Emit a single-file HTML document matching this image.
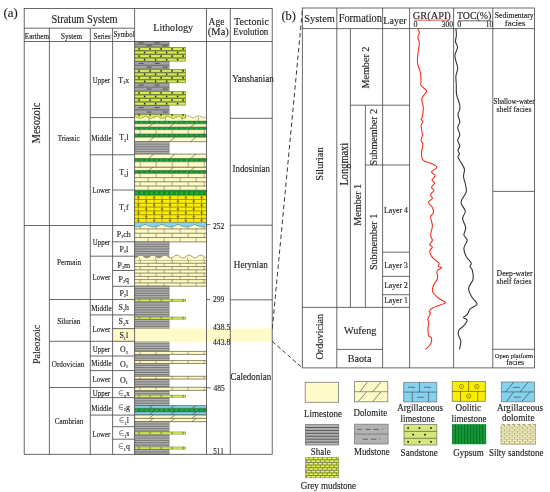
<!DOCTYPE html>
<html><head><meta charset="utf-8"><title>Stratigraphic column</title>
<style>
html,body{margin:0;padding:0;background:#ffffff;}
svg{display:block;font-family:"Liberation Serif","DejaVu Serif",serif;}
text{stroke:#1e1e1e;stroke-width:0.14px;}
</style></head>
<body>
<svg width="550" height="492" viewBox="0 0 550 492">
<rect width="550" height="492" fill="#ffffff"/>
<rect x="112.6" y="328.7" width="159.6" height="12.9" fill="#fffac8"/>
<rect x="134.6" y="41.5" width="34.6" height="5.6" fill="#a3a3a3"/>
<line x1="134.6" y1="41.5" x2="169.2" y2="41.5" stroke="#5c5c5c" stroke-width="0.8"/>
<line x1="134.6" y1="44.3" x2="169.2" y2="44.3" stroke="#5c5c5c" stroke-width="0.8"/>
<line x1="134.6" y1="47.1" x2="169.2" y2="47.1" stroke="#5c5c5c" stroke-width="0.8"/>
<line x1="138.6" y1="42.9" x2="143.6" y2="42.9" stroke="#2e2e2e" stroke-width="0.7"/>
<line x1="154.6" y1="42.9" x2="159.6" y2="42.9" stroke="#2e2e2e" stroke-width="0.7"/>
<line x1="146.6" y1="45.7" x2="151.6" y2="45.7" stroke="#2e2e2e" stroke-width="0.7"/>
<line x1="162.6" y1="45.7" x2="167.6" y2="45.7" stroke="#2e2e2e" stroke-width="0.7"/>
<line x1="169.2" y1="41.5" x2="169.2" y2="47.1" stroke="#666666" stroke-width="0.4"/>
<rect x="134.6" y="47.1" width="51.2" height="14.4" fill="#76823e"/>
<rect x="135.1" y="47.85" width="50.2" height="2.15" fill="#d6ea58"/>
<rect x="138.4" y="48.12" width="1.4" height="1.6" fill="#1a1a1a"/>
<rect x="149.4" y="48.12" width="1.4" height="1.6" fill="#1a1a1a"/>
<rect x="160.4" y="48.12" width="1.4" height="1.6" fill="#1a1a1a"/>
<rect x="171.4" y="48.12" width="1.4" height="1.6" fill="#1a1a1a"/>
<rect x="182.4" y="48.12" width="1.4" height="1.6" fill="#1a1a1a"/>
<rect x="135.1" y="51.45" width="50.2" height="2.15" fill="#d6ea58"/>
<rect x="143.9" y="51.73" width="1.4" height="1.6" fill="#1a1a1a"/>
<rect x="154.9" y="51.73" width="1.4" height="1.6" fill="#1a1a1a"/>
<rect x="165.9" y="51.73" width="1.4" height="1.6" fill="#1a1a1a"/>
<rect x="176.9" y="51.73" width="1.4" height="1.6" fill="#1a1a1a"/>
<rect x="135.1" y="55.05" width="50.2" height="2.15" fill="#d6ea58"/>
<rect x="138.4" y="55.33" width="1.4" height="1.6" fill="#1a1a1a"/>
<rect x="149.4" y="55.33" width="1.4" height="1.6" fill="#1a1a1a"/>
<rect x="160.4" y="55.33" width="1.4" height="1.6" fill="#1a1a1a"/>
<rect x="171.4" y="55.33" width="1.4" height="1.6" fill="#1a1a1a"/>
<rect x="182.4" y="55.33" width="1.4" height="1.6" fill="#1a1a1a"/>
<rect x="135.1" y="58.65" width="50.2" height="2.15" fill="#d6ea58"/>
<rect x="143.9" y="58.92" width="1.4" height="1.6" fill="#1a1a1a"/>
<rect x="154.9" y="58.92" width="1.4" height="1.6" fill="#1a1a1a"/>
<rect x="165.9" y="58.92" width="1.4" height="1.6" fill="#1a1a1a"/>
<rect x="176.9" y="58.92" width="1.4" height="1.6" fill="#1a1a1a"/>
<rect x="134.6" y="61.5" width="34.6" height="7.6" fill="#a3a3a3"/>
<line x1="134.6" y1="61.5" x2="169.2" y2="61.5" stroke="#5c5c5c" stroke-width="0.8"/>
<line x1="134.6" y1="65.3" x2="169.2" y2="65.3" stroke="#5c5c5c" stroke-width="0.8"/>
<line x1="134.6" y1="69.1" x2="169.2" y2="69.1" stroke="#5c5c5c" stroke-width="0.8"/>
<line x1="138.6" y1="63.4" x2="143.6" y2="63.4" stroke="#2e2e2e" stroke-width="0.7"/>
<line x1="154.6" y1="63.4" x2="159.6" y2="63.4" stroke="#2e2e2e" stroke-width="0.7"/>
<line x1="146.6" y1="67.2" x2="151.6" y2="67.2" stroke="#2e2e2e" stroke-width="0.7"/>
<line x1="162.6" y1="67.2" x2="167.6" y2="67.2" stroke="#2e2e2e" stroke-width="0.7"/>
<line x1="169.2" y1="61.5" x2="169.2" y2="69.1" stroke="#666666" stroke-width="0.4"/>
<rect x="134.6" y="69.1" width="51.2" height="14" fill="#76823e"/>
<rect x="135.1" y="69.85" width="50.2" height="2.05" fill="#d6ea58"/>
<rect x="138.4" y="70.08" width="1.4" height="1.6" fill="#1a1a1a"/>
<rect x="149.4" y="70.08" width="1.4" height="1.6" fill="#1a1a1a"/>
<rect x="160.4" y="70.08" width="1.4" height="1.6" fill="#1a1a1a"/>
<rect x="171.4" y="70.08" width="1.4" height="1.6" fill="#1a1a1a"/>
<rect x="182.4" y="70.08" width="1.4" height="1.6" fill="#1a1a1a"/>
<rect x="135.1" y="73.35" width="50.2" height="2.05" fill="#d6ea58"/>
<rect x="143.9" y="73.58" width="1.4" height="1.6" fill="#1a1a1a"/>
<rect x="154.9" y="73.58" width="1.4" height="1.6" fill="#1a1a1a"/>
<rect x="165.9" y="73.58" width="1.4" height="1.6" fill="#1a1a1a"/>
<rect x="176.9" y="73.58" width="1.4" height="1.6" fill="#1a1a1a"/>
<rect x="135.1" y="76.85" width="50.2" height="2.05" fill="#d6ea58"/>
<rect x="138.4" y="77.08" width="1.4" height="1.6" fill="#1a1a1a"/>
<rect x="149.4" y="77.08" width="1.4" height="1.6" fill="#1a1a1a"/>
<rect x="160.4" y="77.08" width="1.4" height="1.6" fill="#1a1a1a"/>
<rect x="171.4" y="77.08" width="1.4" height="1.6" fill="#1a1a1a"/>
<rect x="182.4" y="77.08" width="1.4" height="1.6" fill="#1a1a1a"/>
<rect x="135.1" y="80.35" width="50.2" height="2.05" fill="#d6ea58"/>
<rect x="143.9" y="80.58" width="1.4" height="1.6" fill="#1a1a1a"/>
<rect x="154.9" y="80.58" width="1.4" height="1.6" fill="#1a1a1a"/>
<rect x="165.9" y="80.58" width="1.4" height="1.6" fill="#1a1a1a"/>
<rect x="176.9" y="80.58" width="1.4" height="1.6" fill="#1a1a1a"/>
<rect x="134.6" y="83.1" width="34.6" height="8" fill="#a3a3a3"/>
<line x1="134.6" y1="83.1" x2="169.2" y2="83.1" stroke="#5c5c5c" stroke-width="0.8"/>
<line x1="134.6" y1="87.1" x2="169.2" y2="87.1" stroke="#5c5c5c" stroke-width="0.8"/>
<line x1="134.6" y1="91.1" x2="169.2" y2="91.1" stroke="#5c5c5c" stroke-width="0.8"/>
<line x1="138.6" y1="85.1" x2="143.6" y2="85.1" stroke="#2e2e2e" stroke-width="0.7"/>
<line x1="154.6" y1="85.1" x2="159.6" y2="85.1" stroke="#2e2e2e" stroke-width="0.7"/>
<line x1="146.6" y1="89.1" x2="151.6" y2="89.1" stroke="#2e2e2e" stroke-width="0.7"/>
<line x1="162.6" y1="89.1" x2="167.6" y2="89.1" stroke="#2e2e2e" stroke-width="0.7"/>
<line x1="169.2" y1="83.1" x2="169.2" y2="91.1" stroke="#666666" stroke-width="0.4"/>
<rect x="134.6" y="91.1" width="51.2" height="14.4" fill="#76823e"/>
<rect x="135.1" y="91.85" width="50.2" height="2.15" fill="#d6ea58"/>
<rect x="138.4" y="92.12" width="1.4" height="1.6" fill="#1a1a1a"/>
<rect x="149.4" y="92.12" width="1.4" height="1.6" fill="#1a1a1a"/>
<rect x="160.4" y="92.12" width="1.4" height="1.6" fill="#1a1a1a"/>
<rect x="171.4" y="92.12" width="1.4" height="1.6" fill="#1a1a1a"/>
<rect x="182.4" y="92.12" width="1.4" height="1.6" fill="#1a1a1a"/>
<rect x="135.1" y="95.45" width="50.2" height="2.15" fill="#d6ea58"/>
<rect x="143.9" y="95.72" width="1.4" height="1.6" fill="#1a1a1a"/>
<rect x="154.9" y="95.72" width="1.4" height="1.6" fill="#1a1a1a"/>
<rect x="165.9" y="95.72" width="1.4" height="1.6" fill="#1a1a1a"/>
<rect x="176.9" y="95.72" width="1.4" height="1.6" fill="#1a1a1a"/>
<rect x="135.1" y="99.05" width="50.2" height="2.15" fill="#d6ea58"/>
<rect x="138.4" y="99.33" width="1.4" height="1.6" fill="#1a1a1a"/>
<rect x="149.4" y="99.33" width="1.4" height="1.6" fill="#1a1a1a"/>
<rect x="160.4" y="99.33" width="1.4" height="1.6" fill="#1a1a1a"/>
<rect x="171.4" y="99.33" width="1.4" height="1.6" fill="#1a1a1a"/>
<rect x="182.4" y="99.33" width="1.4" height="1.6" fill="#1a1a1a"/>
<rect x="135.1" y="102.65" width="50.2" height="2.15" fill="#d6ea58"/>
<rect x="143.9" y="102.92" width="1.4" height="1.6" fill="#1a1a1a"/>
<rect x="154.9" y="102.92" width="1.4" height="1.6" fill="#1a1a1a"/>
<rect x="165.9" y="102.92" width="1.4" height="1.6" fill="#1a1a1a"/>
<rect x="176.9" y="102.92" width="1.4" height="1.6" fill="#1a1a1a"/>
<rect x="134.6" y="105.5" width="34.6" height="8.7" fill="#a3a3a3"/>
<line x1="134.6" y1="105.5" x2="169.2" y2="105.5" stroke="#5c5c5c" stroke-width="0.8"/>
<line x1="134.6" y1="109.85" x2="169.2" y2="109.85" stroke="#5c5c5c" stroke-width="0.8"/>
<line x1="134.6" y1="114.2" x2="169.2" y2="114.2" stroke="#5c5c5c" stroke-width="0.8"/>
<line x1="138.6" y1="107.67" x2="143.6" y2="107.67" stroke="#2e2e2e" stroke-width="0.7"/>
<line x1="154.6" y1="107.67" x2="159.6" y2="107.67" stroke="#2e2e2e" stroke-width="0.7"/>
<line x1="146.6" y1="112.03" x2="151.6" y2="112.03" stroke="#2e2e2e" stroke-width="0.7"/>
<line x1="162.6" y1="112.03" x2="167.6" y2="112.03" stroke="#2e2e2e" stroke-width="0.7"/>
<line x1="169.2" y1="105.5" x2="169.2" y2="114.2" stroke="#666666" stroke-width="0.4"/>
<path d="M134.6 116 L181.8 116 L181.8 118.1 L182.6 117.6 L183.39 117.13 L184.19 116.71 L184.99 116.36 L185.78 116.1 L186.58 115.95 L187.38 115.9 L188.17 115.97 L188.97 116.15 L189.77 116.42 L190.56 116.79 L191.36 117.22 L192.16 117.7 L192.95 118 L193.75 117.51 L194.55 117.05 L195.35 116.64 L196.14 116.3 L196.94 116.06 L197.74 115.93 L198.53 115.9 L199.33 115.99 L200.13 116.19 L200.92 116.49 L201.72 116.87 L202.52 117.31 L203.31 117.79 L204.11 117.91 L204.91 117.42 L205.7 116.96 L206.5 116.57 L206.5 121 L134.6 121 Z" fill="#fffbc9"/>
<path d="M181.8 118.1 L182.6 117.6 L183.39 117.13 L184.19 116.71 L184.99 116.36 L185.78 116.1 L186.58 115.95 L187.38 115.9 L188.17 115.97 L188.97 116.15 L189.77 116.42 L190.56 116.79 L191.36 117.22 L192.16 117.7 L192.95 118 L193.75 117.51 L194.55 117.05 L195.35 116.64 L196.14 116.3 L196.94 116.06 L197.74 115.93 L198.53 115.9 L199.33 115.99 L200.13 116.19 L200.92 116.49 L201.72 116.87 L202.52 117.31 L203.31 117.79 L204.11 117.91 L204.91 117.42 L205.7 116.96 L206.5 116.57" fill="none" stroke="#615b3a" stroke-width="0.5"/>
<path d="M134.6 114.2 L185.8 114.2 L185.8 118.32 L185.01 118.52 L184.22 118.6 L183.44 118.56 L182.65 118.4 L181.86 118.13 L181.07 117.76 L180.29 117.31 L179.5 116.81 L178.71 116.28 L177.92 116.66 L177.14 117.17 L176.35 117.64 L175.56 118.03 L174.77 118.33 L173.98 118.52 L173.2 118.6 L172.41 118.55 L171.62 118.39 L170.83 118.11 L170.05 117.74 L169.26 117.29 L168.47 116.79 L167.68 116.26 L166.9 116.68 L166.11 117.19 L165.32 117.65 L164.53 118.04 L163.74 118.34 L162.96 118.53 L162.17 118.6 L161.38 118.55 L160.59 118.38 L159.81 118.1 L159.02 117.73 L158.23 117.28 L157.44 116.77 L156.66 116.24 L155.87 116.7 L155.08 117.21 L154.29 117.67 L153.5 118.06 L152.72 118.35 L151.93 118.53 L151.14 118.6 L150.35 118.55 L149.57 118.37 L148.78 118.09 L147.99 117.71 L147.2 117.26 L146.42 116.75 L145.63 116.22 L144.84 116.72 L144.05 117.23 L143.26 117.68 L142.48 118.07 L141.69 118.36 L140.9 118.54 L140.11 118.6 L139.33 118.54 L138.54 118.37 L137.75 118.08 L136.96 117.7 L136.18 117.24 L135.39 116.74 L134.6 116.2 Z" fill="#76823e"/>
<path d="M135.1 114.8 L185.3 114.8 L185.01 117.92 L184.22 118 L183.44 117.96 L182.65 117.8 L181.86 117.53 L181.07 117.16 L180.29 116.71 L179.5 116.21 L178.71 115.68 L177.92 116.06 L177.14 116.57 L176.35 117.04 L175.56 117.43 L174.77 117.73 L173.98 117.92 L173.2 118 L172.41 117.95 L171.62 117.79 L170.83 117.51 L170.05 117.14 L169.26 116.69 L168.47 116.19 L167.68 115.66 L166.9 116.08 L166.11 116.59 L165.32 117.05 L164.53 117.44 L163.74 117.74 L162.96 117.93 L162.17 118 L161.38 117.95 L160.59 117.78 L159.81 117.5 L159.02 117.13 L158.23 116.68 L157.44 116.17 L156.66 115.64 L155.87 116.1 L155.08 116.61 L154.29 117.07 L153.5 117.46 L152.72 117.75 L151.93 117.93 L151.14 118 L150.35 117.95 L149.57 117.77 L148.78 117.49 L147.99 117.11 L147.2 116.66 L146.42 116.15 L145.63 115.62 L144.84 116.12 L144.05 116.63 L143.26 117.08 L142.48 117.47 L141.69 117.76 L140.9 117.94 L140.11 118 L139.33 117.94 L138.54 117.77 L137.75 117.48 L136.96 117.1 L136.18 116.64 L135.39 116.14 Z" fill="#d6ea58"/>
<rect x="138.4" y="114.3" width="1.4" height="1.4" fill="#1a1a1a"/>
<rect x="149.4" y="114.3" width="1.4" height="1.4" fill="#1a1a1a"/>
<rect x="160.4" y="114.3" width="1.4" height="1.4" fill="#1a1a1a"/>
<rect x="171.4" y="114.3" width="1.4" height="1.4" fill="#1a1a1a"/>
<rect x="182.4" y="114.3" width="1.4" height="1.4" fill="#1a1a1a"/>
<line x1="149.2" y1="117.5" x2="149.2" y2="121" stroke="#615b3a" stroke-width="0.5"/>
<line x1="165.6" y1="117.5" x2="165.6" y2="121" stroke="#615b3a" stroke-width="0.5"/>
<line x1="182" y1="117.5" x2="182" y2="121" stroke="#615b3a" stroke-width="0.5"/>
<line x1="198.4" y1="117.5" x2="198.4" y2="121" stroke="#615b3a" stroke-width="0.5"/>
<rect x="134.6" y="120.8" width="71.9" height="3" fill="#0f8e2d"/>
<line x1="135.4" y1="122.3" x2="206.5" y2="122.3" stroke="#2ba648" stroke-width="1.6500000000000001" stroke-dasharray="2.6 2.4"/>
<rect x="134.6" y="123.8" width="71.9" height="3.3" fill="#fffbc9"/>
<line x1="134.6" y1="123.8" x2="206.5" y2="123.8" stroke="#615b3a" stroke-width="0.7"/>
<line x1="134.6" y1="127.1" x2="206.5" y2="127.1" stroke="#615b3a" stroke-width="0.7"/>
<line x1="148.6" y1="127.1" x2="152.77" y2="123.8" stroke="#333" stroke-width="0.55"/>
<line x1="169.6" y1="127.1" x2="173.77" y2="123.8" stroke="#333" stroke-width="0.55"/>
<line x1="190.6" y1="127.1" x2="194.77" y2="123.8" stroke="#333" stroke-width="0.55"/>
<rect x="134.6" y="127.1" width="71.9" height="2.5" fill="#0f8e2d"/>
<line x1="135.4" y1="128.35" x2="206.5" y2="128.35" stroke="#2ba648" stroke-width="1.375" stroke-dasharray="2.6 2.4"/>
<rect x="134.6" y="129.6" width="71.9" height="4.4" fill="#fffbc9"/>
<line x1="134.6" y1="129.6" x2="206.5" y2="129.6" stroke="#615b3a" stroke-width="0.7"/>
<line x1="134.6" y1="134" x2="206.5" y2="134" stroke="#615b3a" stroke-width="0.7"/>
<line x1="140.2" y1="129.6" x2="140.2" y2="134" stroke="#615b3a" stroke-width="0.5"/>
<line x1="156.2" y1="129.6" x2="156.2" y2="134" stroke="#615b3a" stroke-width="0.5"/>
<line x1="172.2" y1="129.6" x2="172.2" y2="134" stroke="#615b3a" stroke-width="0.5"/>
<line x1="188.2" y1="129.6" x2="188.2" y2="134" stroke="#615b3a" stroke-width="0.5"/>
<line x1="204.2" y1="129.6" x2="204.2" y2="134" stroke="#615b3a" stroke-width="0.5"/>
<rect x="134.6" y="134" width="71.9" height="3.2" fill="#0f8e2d"/>
<line x1="135.4" y1="135.6" x2="206.5" y2="135.6" stroke="#2ba648" stroke-width="1.7599999999999938" stroke-dasharray="2.6 2.4"/>
<rect x="134.6" y="137.2" width="71.9" height="4.5" fill="#fffbc9"/>
<line x1="134.6" y1="137.2" x2="206.5" y2="137.2" stroke="#615b3a" stroke-width="0.7"/>
<line x1="134.6" y1="141.7" x2="206.5" y2="141.7" stroke="#615b3a" stroke-width="0.7"/>
<line x1="148.6" y1="141.7" x2="153.85" y2="137.2" stroke="#333" stroke-width="0.55"/>
<line x1="169.6" y1="141.7" x2="174.85" y2="137.2" stroke="#333" stroke-width="0.55"/>
<line x1="190.6" y1="141.7" x2="195.85" y2="137.2" stroke="#333" stroke-width="0.55"/>
<rect x="134.6" y="141.7" width="34.6" height="12.4" fill="#b2b2b2"/>
<line x1="134.6" y1="141.7" x2="169.2" y2="141.7" stroke="#666666" stroke-width="0.8"/>
<line x1="134.6" y1="144.18" x2="169.2" y2="144.18" stroke="#666666" stroke-width="0.8"/>
<line x1="134.6" y1="146.66" x2="169.2" y2="146.66" stroke="#666666" stroke-width="0.8"/>
<line x1="134.6" y1="149.14" x2="169.2" y2="149.14" stroke="#666666" stroke-width="0.8"/>
<line x1="134.6" y1="151.62" x2="169.2" y2="151.62" stroke="#666666" stroke-width="0.8"/>
<line x1="134.6" y1="154.1" x2="169.2" y2="154.1" stroke="#666666" stroke-width="0.8"/>
<line x1="169.2" y1="141.7" x2="169.2" y2="154.1" stroke="#666666" stroke-width="0.4"/>
<rect x="134.6" y="154.1" width="71.9" height="4.4" fill="#fffbc9"/>
<line x1="134.6" y1="154.1" x2="206.5" y2="154.1" stroke="#615b3a" stroke-width="0.7"/>
<line x1="134.6" y1="158.5" x2="206.5" y2="158.5" stroke="#615b3a" stroke-width="0.7"/>
<line x1="148.6" y1="158.5" x2="153.76" y2="154.1" stroke="#333" stroke-width="0.55"/>
<line x1="169.6" y1="158.5" x2="174.76" y2="154.1" stroke="#333" stroke-width="0.55"/>
<line x1="190.6" y1="158.5" x2="195.76" y2="154.1" stroke="#333" stroke-width="0.55"/>
<rect x="134.6" y="158.5" width="71.9" height="3.2" fill="#0f8e2d"/>
<line x1="135.4" y1="160.1" x2="206.5" y2="160.1" stroke="#2ba648" stroke-width="1.7599999999999938" stroke-dasharray="2.6 2.4"/>
<rect x="134.6" y="161.7" width="71.9" height="5.6" fill="#fffbc9"/>
<line x1="134.6" y1="161.7" x2="206.5" y2="161.7" stroke="#615b3a" stroke-width="0.7"/>
<line x1="134.6" y1="167.3" x2="206.5" y2="167.3" stroke="#615b3a" stroke-width="0.7"/>
<line x1="140.2" y1="161.7" x2="140.2" y2="167.3" stroke="#615b3a" stroke-width="0.5"/>
<line x1="156.2" y1="161.7" x2="156.2" y2="167.3" stroke="#615b3a" stroke-width="0.5"/>
<line x1="172.2" y1="161.7" x2="172.2" y2="167.3" stroke="#615b3a" stroke-width="0.5"/>
<line x1="188.2" y1="161.7" x2="188.2" y2="167.3" stroke="#615b3a" stroke-width="0.5"/>
<line x1="204.2" y1="161.7" x2="204.2" y2="167.3" stroke="#615b3a" stroke-width="0.5"/>
<rect x="134.6" y="167.3" width="71.9" height="3.2" fill="#fffbc9"/>
<line x1="134.6" y1="167.3" x2="206.5" y2="167.3" stroke="#615b3a" stroke-width="0.7"/>
<line x1="134.6" y1="170.5" x2="206.5" y2="170.5" stroke="#615b3a" stroke-width="0.7"/>
<line x1="148.6" y1="170.5" x2="152.68" y2="167.3" stroke="#333" stroke-width="0.55"/>
<line x1="169.6" y1="170.5" x2="173.68" y2="167.3" stroke="#333" stroke-width="0.55"/>
<line x1="190.6" y1="170.5" x2="194.68" y2="167.3" stroke="#333" stroke-width="0.55"/>
<rect x="134.6" y="170.5" width="71.9" height="2.9" fill="#0f8e2d"/>
<line x1="135.4" y1="171.95" x2="206.5" y2="171.95" stroke="#2ba648" stroke-width="1.5950000000000033" stroke-dasharray="2.6 2.4"/>
<rect x="134.6" y="173.4" width="71.9" height="16.8" fill="#fffbc9"/>
<line x1="134.6" y1="173.4" x2="206.5" y2="173.4" stroke="#615b3a" stroke-width="0.7"/>
<line x1="134.6" y1="177.6" x2="206.5" y2="177.6" stroke="#615b3a" stroke-width="0.7"/>
<line x1="134.6" y1="181.8" x2="206.5" y2="181.8" stroke="#615b3a" stroke-width="0.7"/>
<line x1="134.6" y1="186" x2="206.5" y2="186" stroke="#615b3a" stroke-width="0.7"/>
<line x1="134.6" y1="190.2" x2="206.5" y2="190.2" stroke="#615b3a" stroke-width="0.7"/>
<line x1="140.2" y1="173.4" x2="140.2" y2="177.6" stroke="#615b3a" stroke-width="0.5"/>
<line x1="156.2" y1="173.4" x2="156.2" y2="177.6" stroke="#615b3a" stroke-width="0.5"/>
<line x1="172.2" y1="173.4" x2="172.2" y2="177.6" stroke="#615b3a" stroke-width="0.5"/>
<line x1="188.2" y1="173.4" x2="188.2" y2="177.6" stroke="#615b3a" stroke-width="0.5"/>
<line x1="204.2" y1="173.4" x2="204.2" y2="177.6" stroke="#615b3a" stroke-width="0.5"/>
<line x1="148.2" y1="177.6" x2="148.2" y2="181.8" stroke="#615b3a" stroke-width="0.5"/>
<line x1="164.2" y1="177.6" x2="164.2" y2="181.8" stroke="#615b3a" stroke-width="0.5"/>
<line x1="180.2" y1="177.6" x2="180.2" y2="181.8" stroke="#615b3a" stroke-width="0.5"/>
<line x1="196.2" y1="177.6" x2="196.2" y2="181.8" stroke="#615b3a" stroke-width="0.5"/>
<line x1="140.2" y1="181.8" x2="140.2" y2="186" stroke="#615b3a" stroke-width="0.5"/>
<line x1="156.2" y1="181.8" x2="156.2" y2="186" stroke="#615b3a" stroke-width="0.5"/>
<line x1="172.2" y1="181.8" x2="172.2" y2="186" stroke="#615b3a" stroke-width="0.5"/>
<line x1="188.2" y1="181.8" x2="188.2" y2="186" stroke="#615b3a" stroke-width="0.5"/>
<line x1="204.2" y1="181.8" x2="204.2" y2="186" stroke="#615b3a" stroke-width="0.5"/>
<line x1="148.2" y1="186" x2="148.2" y2="190.2" stroke="#615b3a" stroke-width="0.5"/>
<line x1="164.2" y1="186" x2="164.2" y2="190.2" stroke="#615b3a" stroke-width="0.5"/>
<line x1="180.2" y1="186" x2="180.2" y2="190.2" stroke="#615b3a" stroke-width="0.5"/>
<line x1="196.2" y1="186" x2="196.2" y2="190.2" stroke="#615b3a" stroke-width="0.5"/>
<rect x="134.6" y="190.2" width="71.9" height="5.4" fill="#0f8e2d"/>
<line x1="135.4" y1="192.9" x2="206.5" y2="192.9" stroke="#2ba648" stroke-width="2.9700000000000033" stroke-dasharray="2.6 2.4"/>
<rect x="134.6" y="195.6" width="71.9" height="26.8" fill="#988c1a"/>
<rect x="134.6" y="196.05" width="71.9" height="2.93" fill="#fbee00"/>
<rect x="134.6" y="199.88" width="71.9" height="2.93" fill="#fbee00"/>
<rect x="134.6" y="203.71" width="71.9" height="2.93" fill="#fbee00"/>
<rect x="134.6" y="207.54" width="71.9" height="2.93" fill="#fbee00"/>
<rect x="134.6" y="211.36" width="71.9" height="2.93" fill="#fbee00"/>
<rect x="134.6" y="215.19" width="71.9" height="2.93" fill="#fbee00"/>
<rect x="134.6" y="219.02" width="71.9" height="2.93" fill="#fbee00"/>
<line x1="138.4" y1="195.6" x2="138.4" y2="222.4" stroke="#7a6e14" stroke-width="0.55"/>
<circle cx="138.4" cy="197.51" r="0.85" fill="#b8a800" stroke="#3e3606" stroke-width="0.45"/>
<circle cx="138.4" cy="205.17" r="0.85" fill="#b8a800" stroke="#3e3606" stroke-width="0.45"/>
<circle cx="138.4" cy="212.83" r="0.85" fill="#b8a800" stroke="#3e3606" stroke-width="0.45"/>
<circle cx="138.4" cy="220.49" r="0.85" fill="#b8a800" stroke="#3e3606" stroke-width="0.45"/>
<line x1="146.3" y1="195.6" x2="146.3" y2="222.4" stroke="#7a6e14" stroke-width="0.55"/>
<circle cx="146.3" cy="201.34" r="0.85" fill="#b8a800" stroke="#3e3606" stroke-width="0.45"/>
<circle cx="146.3" cy="209" r="0.85" fill="#b8a800" stroke="#3e3606" stroke-width="0.45"/>
<circle cx="146.3" cy="216.66" r="0.85" fill="#b8a800" stroke="#3e3606" stroke-width="0.45"/>
<line x1="154.2" y1="195.6" x2="154.2" y2="222.4" stroke="#7a6e14" stroke-width="0.55"/>
<circle cx="154.2" cy="197.51" r="0.85" fill="#b8a800" stroke="#3e3606" stroke-width="0.45"/>
<circle cx="154.2" cy="205.17" r="0.85" fill="#b8a800" stroke="#3e3606" stroke-width="0.45"/>
<circle cx="154.2" cy="212.83" r="0.85" fill="#b8a800" stroke="#3e3606" stroke-width="0.45"/>
<circle cx="154.2" cy="220.49" r="0.85" fill="#b8a800" stroke="#3e3606" stroke-width="0.45"/>
<line x1="162.1" y1="195.6" x2="162.1" y2="222.4" stroke="#7a6e14" stroke-width="0.55"/>
<circle cx="162.1" cy="201.34" r="0.85" fill="#b8a800" stroke="#3e3606" stroke-width="0.45"/>
<circle cx="162.1" cy="209" r="0.85" fill="#b8a800" stroke="#3e3606" stroke-width="0.45"/>
<circle cx="162.1" cy="216.66" r="0.85" fill="#b8a800" stroke="#3e3606" stroke-width="0.45"/>
<line x1="170" y1="195.6" x2="170" y2="222.4" stroke="#7a6e14" stroke-width="0.55"/>
<circle cx="170" cy="197.51" r="0.85" fill="#b8a800" stroke="#3e3606" stroke-width="0.45"/>
<circle cx="170" cy="205.17" r="0.85" fill="#b8a800" stroke="#3e3606" stroke-width="0.45"/>
<circle cx="170" cy="212.83" r="0.85" fill="#b8a800" stroke="#3e3606" stroke-width="0.45"/>
<circle cx="170" cy="220.49" r="0.85" fill="#b8a800" stroke="#3e3606" stroke-width="0.45"/>
<line x1="177.9" y1="195.6" x2="177.9" y2="222.4" stroke="#7a6e14" stroke-width="0.55"/>
<circle cx="177.9" cy="201.34" r="0.85" fill="#b8a800" stroke="#3e3606" stroke-width="0.45"/>
<circle cx="177.9" cy="209" r="0.85" fill="#b8a800" stroke="#3e3606" stroke-width="0.45"/>
<circle cx="177.9" cy="216.66" r="0.85" fill="#b8a800" stroke="#3e3606" stroke-width="0.45"/>
<line x1="185.8" y1="195.6" x2="185.8" y2="222.4" stroke="#7a6e14" stroke-width="0.55"/>
<circle cx="185.8" cy="197.51" r="0.85" fill="#b8a800" stroke="#3e3606" stroke-width="0.45"/>
<circle cx="185.8" cy="205.17" r="0.85" fill="#b8a800" stroke="#3e3606" stroke-width="0.45"/>
<circle cx="185.8" cy="212.83" r="0.85" fill="#b8a800" stroke="#3e3606" stroke-width="0.45"/>
<circle cx="185.8" cy="220.49" r="0.85" fill="#b8a800" stroke="#3e3606" stroke-width="0.45"/>
<line x1="193.7" y1="195.6" x2="193.7" y2="222.4" stroke="#7a6e14" stroke-width="0.55"/>
<circle cx="193.7" cy="201.34" r="0.85" fill="#b8a800" stroke="#3e3606" stroke-width="0.45"/>
<circle cx="193.7" cy="209" r="0.85" fill="#b8a800" stroke="#3e3606" stroke-width="0.45"/>
<circle cx="193.7" cy="216.66" r="0.85" fill="#b8a800" stroke="#3e3606" stroke-width="0.45"/>
<line x1="201.6" y1="195.6" x2="201.6" y2="222.4" stroke="#7a6e14" stroke-width="0.55"/>
<circle cx="201.6" cy="197.51" r="0.85" fill="#b8a800" stroke="#3e3606" stroke-width="0.45"/>
<circle cx="201.6" cy="205.17" r="0.85" fill="#b8a800" stroke="#3e3606" stroke-width="0.45"/>
<circle cx="201.6" cy="212.83" r="0.85" fill="#b8a800" stroke="#3e3606" stroke-width="0.45"/>
<circle cx="201.6" cy="220.49" r="0.85" fill="#b8a800" stroke="#3e3606" stroke-width="0.45"/>
<rect x="134.6" y="224.6" width="71.9" height="17.3" fill="#fffbc9"/>
<line x1="134.6" y1="228.93" x2="206.5" y2="228.93" stroke="#615b3a" stroke-width="0.7"/>
<line x1="134.6" y1="233.25" x2="206.5" y2="233.25" stroke="#615b3a" stroke-width="0.7"/>
<line x1="134.6" y1="237.57" x2="206.5" y2="237.57" stroke="#615b3a" stroke-width="0.7"/>
<line x1="134.6" y1="241.9" x2="206.5" y2="241.9" stroke="#615b3a" stroke-width="0.7"/>
<line x1="140.2" y1="224.6" x2="140.2" y2="228.93" stroke="#615b3a" stroke-width="0.5"/>
<line x1="156.2" y1="224.6" x2="156.2" y2="228.93" stroke="#615b3a" stroke-width="0.5"/>
<line x1="172.2" y1="224.6" x2="172.2" y2="228.93" stroke="#615b3a" stroke-width="0.5"/>
<line x1="188.2" y1="224.6" x2="188.2" y2="228.93" stroke="#615b3a" stroke-width="0.5"/>
<line x1="204.2" y1="224.6" x2="204.2" y2="228.93" stroke="#615b3a" stroke-width="0.5"/>
<line x1="148.2" y1="228.93" x2="148.2" y2="233.25" stroke="#615b3a" stroke-width="0.5"/>
<line x1="164.2" y1="228.93" x2="164.2" y2="233.25" stroke="#615b3a" stroke-width="0.5"/>
<line x1="180.2" y1="228.93" x2="180.2" y2="233.25" stroke="#615b3a" stroke-width="0.5"/>
<line x1="196.2" y1="228.93" x2="196.2" y2="233.25" stroke="#615b3a" stroke-width="0.5"/>
<line x1="140.2" y1="233.25" x2="140.2" y2="237.57" stroke="#615b3a" stroke-width="0.5"/>
<line x1="156.2" y1="233.25" x2="156.2" y2="237.57" stroke="#615b3a" stroke-width="0.5"/>
<line x1="172.2" y1="233.25" x2="172.2" y2="237.57" stroke="#615b3a" stroke-width="0.5"/>
<line x1="188.2" y1="233.25" x2="188.2" y2="237.57" stroke="#615b3a" stroke-width="0.5"/>
<line x1="204.2" y1="233.25" x2="204.2" y2="237.57" stroke="#615b3a" stroke-width="0.5"/>
<line x1="148.2" y1="237.57" x2="148.2" y2="241.9" stroke="#615b3a" stroke-width="0.5"/>
<line x1="164.2" y1="237.57" x2="164.2" y2="241.9" stroke="#615b3a" stroke-width="0.5"/>
<line x1="180.2" y1="237.57" x2="180.2" y2="241.9" stroke="#615b3a" stroke-width="0.5"/>
<line x1="196.2" y1="237.57" x2="196.2" y2="241.9" stroke="#615b3a" stroke-width="0.5"/>
<rect x="134.6" y="222.4" width="71.9" height="2.2" fill="#84d2ee"/>
<path d="M134.6 222.4 L206.5 222.4 L206.5 226.29 L205.7 226.51 L204.9 226.69 L204.1 226.81 L203.3 226.88 L202.51 226.9 L201.71 226.86 L200.91 226.76 L200.11 226.61 L199.31 226.41 L198.51 226.17 L197.71 225.89 L196.91 225.57 L196.11 225.23 L195.32 224.87 L194.52 224.51 L193.72 224.86 L192.92 225.22 L192.12 225.56 L191.32 225.87 L190.52 226.16 L189.72 226.4 L188.92 226.6 L188.13 226.75 L187.33 226.85 L186.53 226.9 L185.73 226.89 L184.93 226.82 L184.13 226.7 L183.33 226.52 L182.53 226.3 L181.73 226.04 L180.94 225.74 L180.14 225.41 L179.34 225.06 L178.54 224.7 L177.74 224.67 L176.94 225.03 L176.14 225.38 L175.34 225.71 L174.54 226.01 L173.75 226.28 L172.95 226.5 L172.15 226.68 L171.35 226.81 L170.55 226.88 L169.75 226.9 L168.95 226.86 L168.15 226.77 L167.35 226.62 L166.56 226.42 L165.76 226.18 L164.96 225.9 L164.16 225.59 L163.36 225.25 L162.56 224.89 L161.76 224.53 L160.96 224.84 L160.16 225.2 L159.37 225.54 L158.57 225.86 L157.77 226.14 L156.97 226.39 L156.17 226.59 L155.37 226.75 L154.57 226.85 L153.77 226.9 L152.97 226.89 L152.18 226.82 L151.38 226.7 L150.58 226.53 L149.78 226.32 L148.98 226.06 L148.18 225.76 L147.38 225.43 L146.58 225.08 L145.78 224.72 L144.99 224.64 L144.19 225.01 L143.39 225.36 L142.59 225.69 L141.79 225.99 L140.99 226.26 L140.19 226.49 L139.39 226.67 L138.59 226.8 L137.8 226.88 L137 226.9 L136.2 226.86 L135.4 226.77 L134.6 226.63 Z" fill="#84d2ee"/>
<path d="M134.6 226.63 L135.4 226.77 L136.2 226.86 L137 226.9 L137.8 226.88 L138.59 226.8 L139.39 226.67 L140.19 226.49 L140.99 226.26 L141.79 225.99 L142.59 225.69 L143.39 225.36 L144.19 225.01 L144.99 224.64 L145.78 224.72 L146.58 225.08 L147.38 225.43 L148.18 225.76 L148.98 226.06 L149.78 226.32 L150.58 226.53 L151.38 226.7 L152.18 226.82 L152.97 226.89 L153.77 226.9 L154.57 226.85 L155.37 226.75 L156.17 226.59 L156.97 226.39 L157.77 226.14 L158.57 225.86 L159.37 225.54 L160.16 225.2 L160.96 224.84 L161.76 224.53 L162.56 224.89 L163.36 225.25 L164.16 225.59 L164.96 225.9 L165.76 226.18 L166.56 226.42 L167.35 226.62 L168.15 226.77 L168.95 226.86 L169.75 226.9 L170.55 226.88 L171.35 226.81 L172.15 226.68 L172.95 226.5 L173.75 226.28 L174.54 226.01 L175.34 225.71 L176.14 225.38 L176.94 225.03 L177.74 224.67 L178.54 224.7 L179.34 225.06 L180.14 225.41 L180.94 225.74 L181.73 226.04 L182.53 226.3 L183.33 226.52 L184.13 226.7 L184.93 226.82 L185.73 226.89 L186.53 226.9 L187.33 226.85 L188.13 226.75 L188.92 226.6 L189.72 226.4 L190.52 226.16 L191.32 225.87 L192.12 225.56 L192.92 225.22 L193.72 224.86 L194.52 224.51 L195.32 224.87 L196.11 225.23 L196.91 225.57 L197.71 225.89 L198.51 226.17 L199.31 226.41 L200.11 226.61 L200.91 226.76 L201.71 226.86 L202.51 226.9 L203.3 226.88 L204.1 226.81 L204.9 226.69 L205.7 226.51 L206.5 226.29" fill="none" stroke="#3c6070" stroke-width="0.5"/>
<line x1="134.6" y1="222.4" x2="206.5" y2="222.4" stroke="#7a6a08" stroke-width="0.5"/>
<rect x="134.6" y="241.9" width="34.6" height="16.6" fill="#b2b2b2"/>
<line x1="134.6" y1="241.9" x2="169.2" y2="241.9" stroke="#666666" stroke-width="0.8"/>
<line x1="134.6" y1="244.27" x2="169.2" y2="244.27" stroke="#666666" stroke-width="0.8"/>
<line x1="134.6" y1="246.64" x2="169.2" y2="246.64" stroke="#666666" stroke-width="0.8"/>
<line x1="134.6" y1="249.01" x2="169.2" y2="249.01" stroke="#666666" stroke-width="0.8"/>
<line x1="134.6" y1="251.39" x2="169.2" y2="251.39" stroke="#666666" stroke-width="0.8"/>
<line x1="134.6" y1="253.76" x2="169.2" y2="253.76" stroke="#666666" stroke-width="0.8"/>
<line x1="134.6" y1="256.13" x2="169.2" y2="256.13" stroke="#666666" stroke-width="0.8"/>
<line x1="134.6" y1="258.5" x2="169.2" y2="258.5" stroke="#666666" stroke-width="0.8"/>
<line x1="169.2" y1="241.9" x2="169.2" y2="258.5" stroke="#666666" stroke-width="0.4"/>
<rect x="169.5" y="250" width="37" height="9" fill="#ffffff"/>
<rect x="134.6" y="260" width="71.9" height="26.2" fill="#fffbc9"/>
<line x1="134.6" y1="260" x2="206.5" y2="260" stroke="#615b3a" stroke-width="0.7"/>
<line x1="134.6" y1="263.27" x2="206.5" y2="263.27" stroke="#615b3a" stroke-width="0.7"/>
<line x1="134.6" y1="266.55" x2="206.5" y2="266.55" stroke="#615b3a" stroke-width="0.7"/>
<line x1="134.6" y1="269.82" x2="206.5" y2="269.82" stroke="#615b3a" stroke-width="0.7"/>
<line x1="134.6" y1="273.1" x2="206.5" y2="273.1" stroke="#615b3a" stroke-width="0.7"/>
<line x1="134.6" y1="276.38" x2="206.5" y2="276.38" stroke="#615b3a" stroke-width="0.7"/>
<line x1="134.6" y1="279.65" x2="206.5" y2="279.65" stroke="#615b3a" stroke-width="0.7"/>
<line x1="134.6" y1="282.93" x2="206.5" y2="282.93" stroke="#615b3a" stroke-width="0.7"/>
<line x1="134.6" y1="286.2" x2="206.5" y2="286.2" stroke="#615b3a" stroke-width="0.7"/>
<line x1="140.2" y1="260" x2="140.2" y2="263.27" stroke="#615b3a" stroke-width="0.5"/>
<line x1="156.2" y1="260" x2="156.2" y2="263.27" stroke="#615b3a" stroke-width="0.5"/>
<line x1="172.2" y1="260" x2="172.2" y2="263.27" stroke="#615b3a" stroke-width="0.5"/>
<line x1="188.2" y1="260" x2="188.2" y2="263.27" stroke="#615b3a" stroke-width="0.5"/>
<line x1="204.2" y1="260" x2="204.2" y2="263.27" stroke="#615b3a" stroke-width="0.5"/>
<line x1="148.2" y1="263.27" x2="148.2" y2="266.55" stroke="#615b3a" stroke-width="0.5"/>
<line x1="164.2" y1="263.27" x2="164.2" y2="266.55" stroke="#615b3a" stroke-width="0.5"/>
<line x1="180.2" y1="263.27" x2="180.2" y2="266.55" stroke="#615b3a" stroke-width="0.5"/>
<line x1="196.2" y1="263.27" x2="196.2" y2="266.55" stroke="#615b3a" stroke-width="0.5"/>
<line x1="140.2" y1="266.55" x2="140.2" y2="269.82" stroke="#615b3a" stroke-width="0.5"/>
<line x1="156.2" y1="266.55" x2="156.2" y2="269.82" stroke="#615b3a" stroke-width="0.5"/>
<line x1="172.2" y1="266.55" x2="172.2" y2="269.82" stroke="#615b3a" stroke-width="0.5"/>
<line x1="188.2" y1="266.55" x2="188.2" y2="269.82" stroke="#615b3a" stroke-width="0.5"/>
<line x1="204.2" y1="266.55" x2="204.2" y2="269.82" stroke="#615b3a" stroke-width="0.5"/>
<line x1="148.2" y1="269.82" x2="148.2" y2="273.1" stroke="#615b3a" stroke-width="0.5"/>
<line x1="164.2" y1="269.82" x2="164.2" y2="273.1" stroke="#615b3a" stroke-width="0.5"/>
<line x1="180.2" y1="269.82" x2="180.2" y2="273.1" stroke="#615b3a" stroke-width="0.5"/>
<line x1="196.2" y1="269.82" x2="196.2" y2="273.1" stroke="#615b3a" stroke-width="0.5"/>
<line x1="140.2" y1="273.1" x2="140.2" y2="276.38" stroke="#615b3a" stroke-width="0.5"/>
<line x1="156.2" y1="273.1" x2="156.2" y2="276.38" stroke="#615b3a" stroke-width="0.5"/>
<line x1="172.2" y1="273.1" x2="172.2" y2="276.38" stroke="#615b3a" stroke-width="0.5"/>
<line x1="188.2" y1="273.1" x2="188.2" y2="276.38" stroke="#615b3a" stroke-width="0.5"/>
<line x1="204.2" y1="273.1" x2="204.2" y2="276.38" stroke="#615b3a" stroke-width="0.5"/>
<line x1="148.2" y1="276.38" x2="148.2" y2="279.65" stroke="#615b3a" stroke-width="0.5"/>
<line x1="164.2" y1="276.38" x2="164.2" y2="279.65" stroke="#615b3a" stroke-width="0.5"/>
<line x1="180.2" y1="276.38" x2="180.2" y2="279.65" stroke="#615b3a" stroke-width="0.5"/>
<line x1="196.2" y1="276.38" x2="196.2" y2="279.65" stroke="#615b3a" stroke-width="0.5"/>
<line x1="140.2" y1="279.65" x2="140.2" y2="282.93" stroke="#615b3a" stroke-width="0.5"/>
<line x1="156.2" y1="279.65" x2="156.2" y2="282.93" stroke="#615b3a" stroke-width="0.5"/>
<line x1="172.2" y1="279.65" x2="172.2" y2="282.93" stroke="#615b3a" stroke-width="0.5"/>
<line x1="188.2" y1="279.65" x2="188.2" y2="282.93" stroke="#615b3a" stroke-width="0.5"/>
<line x1="204.2" y1="279.65" x2="204.2" y2="282.93" stroke="#615b3a" stroke-width="0.5"/>
<line x1="148.2" y1="282.93" x2="148.2" y2="286.2" stroke="#615b3a" stroke-width="0.5"/>
<line x1="164.2" y1="282.93" x2="164.2" y2="286.2" stroke="#615b3a" stroke-width="0.5"/>
<line x1="180.2" y1="282.93" x2="180.2" y2="286.2" stroke="#615b3a" stroke-width="0.5"/>
<line x1="196.2" y1="282.93" x2="196.2" y2="286.2" stroke="#615b3a" stroke-width="0.5"/>
<path d="M134.6 257.83 L135.4 257.8 L136.2 257.55 L137 257.11 L137.8 256.57 L138.6 256.02 L139.4 255.55 L140.2 255.24 L141 255.15 L141.8 255.3 L142.6 255.65 L143.4 256.15 L144.2 256.71 L145 257.24 L145.8 257.63 L146.6 257.83 L147.4 257.8 L148.2 257.55 L149 257.11 L149.8 256.57 L150.6 256.02 L151.4 255.55 L152.2 255.24 L153 255.15 L153.8 255.3 L154.6 255.65 L155.4 256.15 L156.2 256.71 L157 257.24 L157.8 257.63 L158.6 257.83 L159.4 257.8 L160.2 257.55 L161 257.11 L161.8 256.57 L162.6 256.02 L163.4 255.55 L164.2 255.24 L165 255.15 L165.8 255.3 L166.6 255.65 L167.4 256.15 L168.2 256.71 L169 257.24 L169.8 257.63 L170.6 257.83 L171.4 257.8 L172.2 257.55 L173 257.11 L173.8 256.57 L174.6 256.02 L175.4 255.55 L176.2 255.24 L177 255.15 L177.8 255.3 L178.6 255.65 L179.4 256.15 L180.2 256.71 L181 257.24 L181.8 257.63 L182.6 257.83 L183.4 257.8 L184.2 257.55 L185 257.11 L185.8 256.57 L186.6 256.02 L187.4 255.55 L188.2 255.24 L189 255.15 L189.8 255.3 L190.6 255.65 L191.4 256.15 L192.2 256.71 L193 257.24 L193.8 257.63 L194.6 257.83 L195.4 257.8 L196.2 257.55 L197 257.11 L197.8 256.57 L198.6 256.02 L199.4 255.55 L200.2 255.24 L201 255.15 L201.8 255.3 L202.6 255.65 L203.4 256.15 L204.2 256.71 L205 257.24 L205.8 257.63 L206.5 257.82 L206.5 260 L134.6 260 Z" fill="#fffbc9"/>
<path d="M134.6 257.83 L135.4 257.8 L136.2 257.55 L137 257.11 L137.8 256.57 L138.6 256.02 L139.4 255.55 L140.2 255.24 L141 255.15 L141.8 255.3 L142.6 255.65 L143.4 256.15 L144.2 256.71 L145 257.24 L145.8 257.63 L146.6 257.83 L147.4 257.8 L148.2 257.55 L149 257.11 L149.8 256.57 L150.6 256.02 L151.4 255.55 L152.2 255.24 L153 255.15 L153.8 255.3 L154.6 255.65 L155.4 256.15 L156.2 256.71 L157 257.24 L157.8 257.63 L158.6 257.83 L159.4 257.8 L160.2 257.55 L161 257.11 L161.8 256.57 L162.6 256.02 L163.4 255.55 L164.2 255.24 L165 255.15 L165.8 255.3 L166.6 255.65 L167.4 256.15 L168.2 256.71 L169 257.24 L169.8 257.63 L170.6 257.83 L171.4 257.8 L172.2 257.55 L173 257.11 L173.8 256.57 L174.6 256.02 L175.4 255.55 L176.2 255.24 L177 255.15 L177.8 255.3 L178.6 255.65 L179.4 256.15 L180.2 256.71 L181 257.24 L181.8 257.63 L182.6 257.83 L183.4 257.8 L184.2 257.55 L185 257.11 L185.8 256.57 L186.6 256.02 L187.4 255.55 L188.2 255.24 L189 255.15 L189.8 255.3 L190.6 255.65 L191.4 256.15 L192.2 256.71 L193 257.24 L193.8 257.63 L194.6 257.83 L195.4 257.8 L196.2 257.55 L197 257.11 L197.8 256.57 L198.6 256.02 L199.4 255.55 L200.2 255.24 L201 255.15 L201.8 255.3 L202.6 255.65 L203.4 256.15 L204.2 256.71 L205 257.24 L205.8 257.63 L206.5 257.82" fill="none" stroke="#615b3a" stroke-width="0.6"/>
<line x1="139.6" y1="257.6" x2="139.6" y2="260" stroke="#615b3a" stroke-width="0.5"/>
<line x1="155.6" y1="257.6" x2="155.6" y2="260" stroke="#615b3a" stroke-width="0.5"/>
<line x1="171.6" y1="257.6" x2="171.6" y2="260" stroke="#615b3a" stroke-width="0.5"/>
<line x1="187.6" y1="257.6" x2="187.6" y2="260" stroke="#615b3a" stroke-width="0.5"/>
<line x1="203.6" y1="257.6" x2="203.6" y2="260" stroke="#615b3a" stroke-width="0.5"/>
<rect x="134.6" y="286.2" width="34.6" height="42.6" fill="#b2b2b2"/>
<line x1="134.6" y1="286.2" x2="169.2" y2="286.2" stroke="#666666" stroke-width="0.8"/>
<line x1="134.6" y1="288.57" x2="169.2" y2="288.57" stroke="#666666" stroke-width="0.8"/>
<line x1="134.6" y1="290.93" x2="169.2" y2="290.93" stroke="#666666" stroke-width="0.8"/>
<line x1="134.6" y1="293.3" x2="169.2" y2="293.3" stroke="#666666" stroke-width="0.8"/>
<line x1="134.6" y1="295.67" x2="169.2" y2="295.67" stroke="#666666" stroke-width="0.8"/>
<line x1="134.6" y1="298.03" x2="169.2" y2="298.03" stroke="#666666" stroke-width="0.8"/>
<line x1="134.6" y1="300.4" x2="169.2" y2="300.4" stroke="#666666" stroke-width="0.8"/>
<line x1="134.6" y1="302.77" x2="169.2" y2="302.77" stroke="#666666" stroke-width="0.8"/>
<line x1="134.6" y1="305.13" x2="169.2" y2="305.13" stroke="#666666" stroke-width="0.8"/>
<line x1="134.6" y1="307.5" x2="169.2" y2="307.5" stroke="#666666" stroke-width="0.8"/>
<line x1="134.6" y1="309.87" x2="169.2" y2="309.87" stroke="#666666" stroke-width="0.8"/>
<line x1="134.6" y1="312.23" x2="169.2" y2="312.23" stroke="#666666" stroke-width="0.8"/>
<line x1="134.6" y1="314.6" x2="169.2" y2="314.6" stroke="#666666" stroke-width="0.8"/>
<line x1="134.6" y1="316.97" x2="169.2" y2="316.97" stroke="#666666" stroke-width="0.8"/>
<line x1="134.6" y1="319.33" x2="169.2" y2="319.33" stroke="#666666" stroke-width="0.8"/>
<line x1="134.6" y1="321.7" x2="169.2" y2="321.7" stroke="#666666" stroke-width="0.8"/>
<line x1="134.6" y1="324.07" x2="169.2" y2="324.07" stroke="#666666" stroke-width="0.8"/>
<line x1="134.6" y1="326.43" x2="169.2" y2="326.43" stroke="#666666" stroke-width="0.8"/>
<line x1="134.6" y1="328.8" x2="169.2" y2="328.8" stroke="#666666" stroke-width="0.8"/>
<line x1="169.2" y1="286.2" x2="169.2" y2="328.8" stroke="#666666" stroke-width="0.4"/>
<rect x="134.6" y="299" width="51.2" height="2.6" fill="#76823e"/>
<rect x="135.1" y="299.5" width="50.2" height="1.6" fill="#d6ea58"/>
<rect x="138.65" y="299" width="0.9" height="2.6" fill="#6a743a"/>
<rect x="149.65" y="299" width="0.9" height="2.6" fill="#6a743a"/>
<rect x="160.65" y="299" width="0.9" height="2.6" fill="#6a743a"/>
<rect x="171.65" y="299" width="0.9" height="2.6" fill="#6a743a"/>
<rect x="182.65" y="299" width="0.9" height="2.6" fill="#6a743a"/>
<rect x="134.6" y="316.8" width="51.2" height="2.6" fill="#76823e"/>
<rect x="135.1" y="317.3" width="50.2" height="1.6" fill="#d6ea58"/>
<rect x="138.65" y="316.8" width="0.9" height="2.6" fill="#6a743a"/>
<rect x="149.65" y="316.8" width="0.9" height="2.6" fill="#6a743a"/>
<rect x="160.65" y="316.8" width="0.9" height="2.6" fill="#6a743a"/>
<rect x="171.65" y="316.8" width="0.9" height="2.6" fill="#6a743a"/>
<rect x="182.65" y="316.8" width="0.9" height="2.6" fill="#6a743a"/>
<rect x="134.6" y="341.5" width="34.6" height="64.1" fill="#b2b2b2"/>
<line x1="134.6" y1="341.5" x2="169.2" y2="341.5" stroke="#666666" stroke-width="0.8"/>
<line x1="134.6" y1="343.87" x2="169.2" y2="343.87" stroke="#666666" stroke-width="0.8"/>
<line x1="134.6" y1="346.25" x2="169.2" y2="346.25" stroke="#666666" stroke-width="0.8"/>
<line x1="134.6" y1="348.62" x2="169.2" y2="348.62" stroke="#666666" stroke-width="0.8"/>
<line x1="134.6" y1="351" x2="169.2" y2="351" stroke="#666666" stroke-width="0.8"/>
<line x1="134.6" y1="353.37" x2="169.2" y2="353.37" stroke="#666666" stroke-width="0.8"/>
<line x1="134.6" y1="355.74" x2="169.2" y2="355.74" stroke="#666666" stroke-width="0.8"/>
<line x1="134.6" y1="358.12" x2="169.2" y2="358.12" stroke="#666666" stroke-width="0.8"/>
<line x1="134.6" y1="360.49" x2="169.2" y2="360.49" stroke="#666666" stroke-width="0.8"/>
<line x1="134.6" y1="362.87" x2="169.2" y2="362.87" stroke="#666666" stroke-width="0.8"/>
<line x1="134.6" y1="365.24" x2="169.2" y2="365.24" stroke="#666666" stroke-width="0.8"/>
<line x1="134.6" y1="367.61" x2="169.2" y2="367.61" stroke="#666666" stroke-width="0.8"/>
<line x1="134.6" y1="369.99" x2="169.2" y2="369.99" stroke="#666666" stroke-width="0.8"/>
<line x1="134.6" y1="372.36" x2="169.2" y2="372.36" stroke="#666666" stroke-width="0.8"/>
<line x1="134.6" y1="374.74" x2="169.2" y2="374.74" stroke="#666666" stroke-width="0.8"/>
<line x1="134.6" y1="377.11" x2="169.2" y2="377.11" stroke="#666666" stroke-width="0.8"/>
<line x1="134.6" y1="379.49" x2="169.2" y2="379.49" stroke="#666666" stroke-width="0.8"/>
<line x1="134.6" y1="381.86" x2="169.2" y2="381.86" stroke="#666666" stroke-width="0.8"/>
<line x1="134.6" y1="384.23" x2="169.2" y2="384.23" stroke="#666666" stroke-width="0.8"/>
<line x1="134.6" y1="386.61" x2="169.2" y2="386.61" stroke="#666666" stroke-width="0.8"/>
<line x1="134.6" y1="388.98" x2="169.2" y2="388.98" stroke="#666666" stroke-width="0.8"/>
<line x1="134.6" y1="391.36" x2="169.2" y2="391.36" stroke="#666666" stroke-width="0.8"/>
<line x1="134.6" y1="393.73" x2="169.2" y2="393.73" stroke="#666666" stroke-width="0.8"/>
<line x1="134.6" y1="396.1" x2="169.2" y2="396.1" stroke="#666666" stroke-width="0.8"/>
<line x1="134.6" y1="398.48" x2="169.2" y2="398.48" stroke="#666666" stroke-width="0.8"/>
<line x1="134.6" y1="400.85" x2="169.2" y2="400.85" stroke="#666666" stroke-width="0.8"/>
<line x1="134.6" y1="403.23" x2="169.2" y2="403.23" stroke="#666666" stroke-width="0.8"/>
<line x1="134.6" y1="405.6" x2="169.2" y2="405.6" stroke="#666666" stroke-width="0.8"/>
<line x1="169.2" y1="341.5" x2="169.2" y2="405.6" stroke="#666666" stroke-width="0.4"/>
<rect x="134.6" y="351.4" width="71.9" height="3" fill="#fffbc9"/>
<line x1="134.6" y1="351.4" x2="206.5" y2="351.4" stroke="#615b3a" stroke-width="0.7"/>
<line x1="134.6" y1="354.4" x2="206.5" y2="354.4" stroke="#615b3a" stroke-width="0.7"/>
<line x1="140.2" y1="351.4" x2="140.2" y2="354.4" stroke="#615b3a" stroke-width="0.5"/>
<line x1="156.2" y1="351.4" x2="156.2" y2="354.4" stroke="#615b3a" stroke-width="0.5"/>
<line x1="172.2" y1="351.4" x2="172.2" y2="354.4" stroke="#615b3a" stroke-width="0.5"/>
<line x1="188.2" y1="351.4" x2="188.2" y2="354.4" stroke="#615b3a" stroke-width="0.5"/>
<line x1="204.2" y1="351.4" x2="204.2" y2="354.4" stroke="#615b3a" stroke-width="0.5"/>
<rect x="134.6" y="360.6" width="71.9" height="2.9" fill="#fffbc9"/>
<line x1="134.6" y1="360.6" x2="206.5" y2="360.6" stroke="#615b3a" stroke-width="0.7"/>
<line x1="134.6" y1="363.5" x2="206.5" y2="363.5" stroke="#615b3a" stroke-width="0.7"/>
<line x1="140.2" y1="360.6" x2="140.2" y2="363.5" stroke="#615b3a" stroke-width="0.5"/>
<line x1="156.2" y1="360.6" x2="156.2" y2="363.5" stroke="#615b3a" stroke-width="0.5"/>
<line x1="172.2" y1="360.6" x2="172.2" y2="363.5" stroke="#615b3a" stroke-width="0.5"/>
<line x1="188.2" y1="360.6" x2="188.2" y2="363.5" stroke="#615b3a" stroke-width="0.5"/>
<line x1="204.2" y1="360.6" x2="204.2" y2="363.5" stroke="#615b3a" stroke-width="0.5"/>
<rect x="134.6" y="376.3" width="71.9" height="2.7" fill="#fffbc9"/>
<line x1="134.6" y1="376.3" x2="206.5" y2="376.3" stroke="#615b3a" stroke-width="0.7"/>
<line x1="134.6" y1="379" x2="206.5" y2="379" stroke="#615b3a" stroke-width="0.7"/>
<line x1="140.2" y1="376.3" x2="140.2" y2="379" stroke="#615b3a" stroke-width="0.5"/>
<line x1="156.2" y1="376.3" x2="156.2" y2="379" stroke="#615b3a" stroke-width="0.5"/>
<line x1="172.2" y1="376.3" x2="172.2" y2="379" stroke="#615b3a" stroke-width="0.5"/>
<line x1="188.2" y1="376.3" x2="188.2" y2="379" stroke="#615b3a" stroke-width="0.5"/>
<line x1="204.2" y1="376.3" x2="204.2" y2="379" stroke="#615b3a" stroke-width="0.5"/>
<rect x="134.6" y="387.3" width="71.9" height="3.1" fill="#fffbc9"/>
<line x1="134.6" y1="387.3" x2="206.5" y2="387.3" stroke="#615b3a" stroke-width="0.7"/>
<line x1="134.6" y1="390.4" x2="206.5" y2="390.4" stroke="#615b3a" stroke-width="0.7"/>
<line x1="140.2" y1="387.3" x2="140.2" y2="390.4" stroke="#615b3a" stroke-width="0.5"/>
<line x1="156.2" y1="387.3" x2="156.2" y2="390.4" stroke="#615b3a" stroke-width="0.5"/>
<line x1="172.2" y1="387.3" x2="172.2" y2="390.4" stroke="#615b3a" stroke-width="0.5"/>
<line x1="188.2" y1="387.3" x2="188.2" y2="390.4" stroke="#615b3a" stroke-width="0.5"/>
<line x1="204.2" y1="387.3" x2="204.2" y2="390.4" stroke="#615b3a" stroke-width="0.5"/>
<rect x="134.6" y="394.9" width="51.2" height="2.6" fill="#76823e"/>
<rect x="135.1" y="395.4" width="50.2" height="1.6" fill="#d6ea58"/>
<rect x="138.65" y="394.9" width="0.9" height="2.6" fill="#6a743a"/>
<rect x="149.65" y="394.9" width="0.9" height="2.6" fill="#6a743a"/>
<rect x="160.65" y="394.9" width="0.9" height="2.6" fill="#6a743a"/>
<rect x="171.65" y="394.9" width="0.9" height="2.6" fill="#6a743a"/>
<rect x="182.65" y="394.9" width="0.9" height="2.6" fill="#6a743a"/>
<rect x="134.6" y="405.6" width="71.9" height="2.7" fill="#84d2ee"/>
<line x1="134.6" y1="405.6" x2="206.5" y2="405.6" stroke="#3c6070" stroke-width="0.7"/>
<line x1="134.6" y1="408.3" x2="206.5" y2="408.3" stroke="#3c6070" stroke-width="0.7"/>
<line x1="149.1" y1="408.3" x2="152.73" y2="405.6" stroke="#333" stroke-width="0.55"/>
<line x1="170.6" y1="408.3" x2="174.23" y2="405.6" stroke="#333" stroke-width="0.55"/>
<line x1="192.1" y1="408.3" x2="195.73" y2="405.6" stroke="#333" stroke-width="0.55"/>
<rect x="134.6" y="408.3" width="71.9" height="3.6" fill="#0f8e2d"/>
<line x1="135.4" y1="410.1" x2="206.5" y2="410.1" stroke="#2ba648" stroke-width="1.9799999999999813" stroke-dasharray="2.6 2.4"/>
<rect x="134.6" y="411.9" width="71.9" height="3.1" fill="#84d2ee"/>
<line x1="134.6" y1="411.9" x2="206.5" y2="411.9" stroke="#3c6070" stroke-width="0.7"/>
<line x1="134.6" y1="415" x2="206.5" y2="415" stroke="#3c6070" stroke-width="0.7"/>
<line x1="149.1" y1="415" x2="153.09" y2="411.9" stroke="#333" stroke-width="0.55"/>
<line x1="170.6" y1="415" x2="174.59" y2="411.9" stroke="#333" stroke-width="0.55"/>
<line x1="192.1" y1="415" x2="196.09" y2="411.9" stroke="#333" stroke-width="0.55"/>
<rect x="134.6" y="415" width="71.9" height="6.7" fill="#fffbc9"/>
<line x1="134.6" y1="415" x2="206.5" y2="415" stroke="#4f4a30" stroke-width="0.7"/>
<line x1="134.6" y1="418.35" x2="206.5" y2="418.35" stroke="#4f4a30" stroke-width="0.7"/>
<line x1="134.6" y1="421.7" x2="206.5" y2="421.7" stroke="#4f4a30" stroke-width="0.7"/>
<line x1="149.1" y1="418.35" x2="153.31" y2="415" stroke="#333" stroke-width="0.55"/>
<line x1="170.6" y1="418.35" x2="174.81" y2="415" stroke="#333" stroke-width="0.55"/>
<line x1="192.1" y1="418.35" x2="196.31" y2="415" stroke="#333" stroke-width="0.55"/>
<line x1="149.1" y1="421.7" x2="153.31" y2="418.35" stroke="#333" stroke-width="0.55"/>
<line x1="170.6" y1="421.7" x2="174.81" y2="418.35" stroke="#333" stroke-width="0.55"/>
<line x1="192.1" y1="421.7" x2="196.31" y2="418.35" stroke="#333" stroke-width="0.55"/>
<rect x="134.6" y="421.7" width="34.6" height="32.6" fill="#b2b2b2"/>
<line x1="134.6" y1="421.7" x2="169.2" y2="421.7" stroke="#666666" stroke-width="0.8"/>
<line x1="134.6" y1="424.03" x2="169.2" y2="424.03" stroke="#666666" stroke-width="0.8"/>
<line x1="134.6" y1="426.36" x2="169.2" y2="426.36" stroke="#666666" stroke-width="0.8"/>
<line x1="134.6" y1="428.69" x2="169.2" y2="428.69" stroke="#666666" stroke-width="0.8"/>
<line x1="134.6" y1="431.01" x2="169.2" y2="431.01" stroke="#666666" stroke-width="0.8"/>
<line x1="134.6" y1="433.34" x2="169.2" y2="433.34" stroke="#666666" stroke-width="0.8"/>
<line x1="134.6" y1="435.67" x2="169.2" y2="435.67" stroke="#666666" stroke-width="0.8"/>
<line x1="134.6" y1="438" x2="169.2" y2="438" stroke="#666666" stroke-width="0.8"/>
<line x1="134.6" y1="440.33" x2="169.2" y2="440.33" stroke="#666666" stroke-width="0.8"/>
<line x1="134.6" y1="442.66" x2="169.2" y2="442.66" stroke="#666666" stroke-width="0.8"/>
<line x1="134.6" y1="444.99" x2="169.2" y2="444.99" stroke="#666666" stroke-width="0.8"/>
<line x1="134.6" y1="447.31" x2="169.2" y2="447.31" stroke="#666666" stroke-width="0.8"/>
<line x1="134.6" y1="449.64" x2="169.2" y2="449.64" stroke="#666666" stroke-width="0.8"/>
<line x1="134.6" y1="451.97" x2="169.2" y2="451.97" stroke="#666666" stroke-width="0.8"/>
<line x1="134.6" y1="454.3" x2="169.2" y2="454.3" stroke="#666666" stroke-width="0.8"/>
<line x1="169.2" y1="421.7" x2="169.2" y2="454.3" stroke="#666666" stroke-width="0.4"/>
<rect x="134.6" y="431.7" width="51.2" height="2.7" fill="#76823e"/>
<rect x="135.1" y="432.2" width="50.2" height="1.7" fill="#d6ea58"/>
<rect x="138.65" y="431.7" width="0.9" height="2.7" fill="#6a743a"/>
<rect x="149.65" y="431.7" width="0.9" height="2.7" fill="#6a743a"/>
<rect x="160.65" y="431.7" width="0.9" height="2.7" fill="#6a743a"/>
<rect x="171.65" y="431.7" width="0.9" height="2.7" fill="#6a743a"/>
<rect x="182.65" y="431.7" width="0.9" height="2.7" fill="#6a743a"/>
<rect x="134.6" y="446.7" width="51.2" height="2.7" fill="#76823e"/>
<rect x="135.1" y="447.2" width="50.2" height="1.7" fill="#d6ea58"/>
<rect x="138.65" y="446.7" width="0.9" height="2.7" fill="#6a743a"/>
<rect x="149.65" y="446.7" width="0.9" height="2.7" fill="#6a743a"/>
<rect x="160.65" y="446.7" width="0.9" height="2.7" fill="#6a743a"/>
<rect x="171.65" y="446.7" width="0.9" height="2.7" fill="#6a743a"/>
<rect x="182.65" y="446.7" width="0.9" height="2.7" fill="#6a743a"/>
<rect x="134.4" y="328.7" width="72.3" height="12.9" fill="#fffac8"/>
<rect x="24.2" y="8.4" width="248.0" height="445.90000000000003" fill="none" stroke="#444444" stroke-width="0.8"/>
<line x1="24.2" y1="41.5" x2="272.2" y2="41.5" stroke="#444444" stroke-width="0.8"/>
<line x1="24.2" y1="28.2" x2="134.6" y2="28.2" stroke="#444444" stroke-width="0.8"/>
<line x1="49.4" y1="28" x2="49.4" y2="454.3" stroke="#444444" stroke-width="0.8"/>
<line x1="90.3" y1="28" x2="90.3" y2="454.3" stroke="#444444" stroke-width="0.8"/>
<line x1="112.6" y1="28" x2="112.6" y2="454.3" stroke="#444444" stroke-width="0.8"/>
<line x1="134.6" y1="8.4" x2="134.6" y2="454.3" stroke="#444444" stroke-width="0.8"/>
<line x1="206.5" y1="8.4" x2="206.5" y2="454.3" stroke="#444444" stroke-width="0.8"/>
<line x1="230.3" y1="8.4" x2="230.3" y2="454.3" stroke="#444444" stroke-width="0.8"/>
<line x1="90.3" y1="117.6" x2="134.6" y2="117.6" stroke="#444444" stroke-width="0.8"/>
<line x1="90.3" y1="154.8" x2="134.6" y2="154.8" stroke="#444444" stroke-width="0.8"/>
<line x1="112.6" y1="190" x2="134.6" y2="190" stroke="#444444" stroke-width="0.8"/>
<line x1="24.2" y1="225.5" x2="134.6" y2="225.5" stroke="#444444" stroke-width="0.8"/>
<line x1="112.6" y1="241.8" x2="134.6" y2="241.8" stroke="#444444" stroke-width="0.8"/>
<line x1="90.3" y1="256.2" x2="134.6" y2="256.2" stroke="#444444" stroke-width="0.8"/>
<line x1="112.6" y1="270.5" x2="134.6" y2="270.5" stroke="#444444" stroke-width="0.8"/>
<line x1="112.6" y1="286.3" x2="134.6" y2="286.3" stroke="#444444" stroke-width="0.8"/>
<line x1="49.4" y1="299.5" x2="134.6" y2="299.5" stroke="#444444" stroke-width="0.8"/>
<line x1="90.3" y1="314.9" x2="134.6" y2="314.9" stroke="#444444" stroke-width="0.8"/>
<line x1="112.6" y1="328.6" x2="134.6" y2="328.6" stroke="#444444" stroke-width="0.8"/>
<line x1="49.4" y1="341.3" x2="134.6" y2="341.3" stroke="#444444" stroke-width="0.8"/>
<line x1="90.3" y1="356" x2="134.6" y2="356" stroke="#444444" stroke-width="0.8"/>
<line x1="90.3" y1="370.6" x2="134.6" y2="370.6" stroke="#444444" stroke-width="0.8"/>
<line x1="49.4" y1="387.5" x2="134.6" y2="387.5" stroke="#444444" stroke-width="0.8"/>
<line x1="90.3" y1="397.6" x2="134.6" y2="397.6" stroke="#444444" stroke-width="0.8"/>
<line x1="90.3" y1="415.1" x2="134.6" y2="415.1" stroke="#444444" stroke-width="0.8"/>
<line x1="112.6" y1="426.7" x2="134.6" y2="426.7" stroke="#444444" stroke-width="0.8"/>
<line x1="112.6" y1="439.2" x2="134.6" y2="439.2" stroke="#444444" stroke-width="0.8"/>
<line x1="230.3" y1="118.3" x2="272.2" y2="118.3" stroke="#444444" stroke-width="0.8"/>
<line x1="230.3" y1="225.2" x2="272.2" y2="225.2" stroke="#444444" stroke-width="0.8"/>
<line x1="230.3" y1="299.8" x2="272.2" y2="299.8" stroke="#444444" stroke-width="0.8"/>
<line x1="206.5" y1="224.7" x2="210.4" y2="224.7" stroke="#444444" stroke-width="0.8"/>
<line x1="206.5" y1="299.4" x2="209.8" y2="299.4" stroke="#444444" stroke-width="0.8"/>
<line x1="206.5" y1="387.8" x2="210.6" y2="387.8" stroke="#444444" stroke-width="0.8"/>
<text x="10.7" y="17.03" font-size="11.6" text-anchor="middle" textLength="14.2" lengthAdjust="spacingAndGlyphs" fill="#1e1e1e">(a)</text>
<text x="84.6" y="23.38" font-size="11.44" text-anchor="middle" textLength="66" lengthAdjust="spacingAndGlyphs" fill="#1e1e1e">Stratum System</text>
<text x="36.9" y="38.91" font-size="7.92" text-anchor="middle" textLength="24.2" lengthAdjust="spacingAndGlyphs" fill="#1e1e1e">Earthem</text>
<text x="71.5" y="38.88" font-size="7.81" text-anchor="middle" textLength="21" lengthAdjust="spacingAndGlyphs" fill="#1e1e1e">System</text>
<text x="102.1" y="38.54" font-size="7.7" text-anchor="middle" textLength="17" lengthAdjust="spacingAndGlyphs" fill="#1e1e1e">Series</text>
<text x="124" y="37.14" font-size="7.7" text-anchor="middle" textLength="20.6" lengthAdjust="spacingAndGlyphs" fill="#1e1e1e">Symbol</text>
<text x="173.2" y="30.67" font-size="11.11" text-anchor="middle" textLength="40" lengthAdjust="spacingAndGlyphs" fill="#1e1e1e">Lithology</text>
<text x="216.5" y="24.88" font-size="10.56" text-anchor="middle" textLength="15.8" lengthAdjust="spacingAndGlyphs" fill="#1e1e1e">Age</text>
<text x="218.3" y="35.02" font-size="10.67" text-anchor="middle" textLength="21" lengthAdjust="spacingAndGlyphs" fill="#1e1e1e">(Ma)</text>
<text x="251.5" y="24.63" font-size="11.0" text-anchor="middle" textLength="34.8" lengthAdjust="spacingAndGlyphs" fill="#1e1e1e">Tectonic</text>
<text x="250.8" y="35.03" font-size="9.79" text-anchor="middle" textLength="35" lengthAdjust="spacingAndGlyphs" fill="#1e1e1e">Evolution</text>
<text transform="translate(36.6 123) rotate(-90)" x="0" y="3.78" font-size="11.44" text-anchor="middle" textLength="41" lengthAdjust="spacingAndGlyphs" fill="#1e1e1e">Mesozoic</text>
<text transform="translate(36.6 344.4) rotate(-90)" x="0" y="3.7" font-size="11.22" text-anchor="middle" textLength="39.4" lengthAdjust="spacingAndGlyphs" fill="#1e1e1e">Paleozoic</text>
<text x="68.7" y="140.94" font-size="7.7" text-anchor="middle" textLength="22" lengthAdjust="spacingAndGlyphs" fill="#1e1e1e">Triassic</text>
<text x="69" y="265.21" font-size="7.92" text-anchor="middle" textLength="24" lengthAdjust="spacingAndGlyphs" fill="#1e1e1e">Permain</text>
<text x="68.8" y="323.81" font-size="7.92" text-anchor="middle" textLength="23" lengthAdjust="spacingAndGlyphs" fill="#1e1e1e">Silurian</text>
<text x="68" y="366.61" font-size="7.92" text-anchor="middle" textLength="32.5" lengthAdjust="spacingAndGlyphs" fill="#1e1e1e">Ordovician</text>
<text x="69" y="424.31" font-size="7.92" text-anchor="middle" textLength="28.5" lengthAdjust="spacingAndGlyphs" fill="#1e1e1e">Cambrian</text>
<text x="101.4" y="82.94" font-size="7.7" text-anchor="middle" textLength="17.2" lengthAdjust="spacingAndGlyphs" fill="#1e1e1e">Upper</text>
<text x="101.4" y="141.34" font-size="7.7" text-anchor="middle" textLength="20.4" lengthAdjust="spacingAndGlyphs" fill="#1e1e1e">Middle</text>
<text x="101.4" y="192.84" font-size="7.7" text-anchor="middle" textLength="17.6" lengthAdjust="spacingAndGlyphs" fill="#1e1e1e">Lower</text>
<text x="101.4" y="244.94" font-size="7.7" text-anchor="middle" textLength="17.2" lengthAdjust="spacingAndGlyphs" fill="#1e1e1e">Upper</text>
<text x="101.4" y="279.54" font-size="7.7" text-anchor="middle" textLength="17.6" lengthAdjust="spacingAndGlyphs" fill="#1e1e1e">Lower</text>
<text x="101.4" y="311.44" font-size="7.7" text-anchor="middle" textLength="20.4" lengthAdjust="spacingAndGlyphs" fill="#1e1e1e">Middle</text>
<text x="101.4" y="332.14" font-size="7.7" text-anchor="middle" textLength="17.6" lengthAdjust="spacingAndGlyphs" fill="#1e1e1e">Lower</text>
<text x="101.4" y="351.94" font-size="7.7" text-anchor="middle" textLength="17.2" lengthAdjust="spacingAndGlyphs" fill="#1e1e1e">Upper</text>
<text x="101.4" y="366.14" font-size="7.7" text-anchor="middle" textLength="20.4" lengthAdjust="spacingAndGlyphs" fill="#1e1e1e">Middle</text>
<text x="101.4" y="382.14" font-size="7.7" text-anchor="middle" textLength="17.6" lengthAdjust="spacingAndGlyphs" fill="#1e1e1e">Lower</text>
<text x="101.4" y="395.74" font-size="7.7" text-anchor="middle" textLength="17.2" lengthAdjust="spacingAndGlyphs" fill="#1e1e1e">Upper</text>
<text x="101.4" y="410.64" font-size="7.7" text-anchor="middle" textLength="20.4" lengthAdjust="spacingAndGlyphs" fill="#1e1e1e">Middle</text>
<text x="101.4" y="436.74" font-size="7.7" text-anchor="middle" textLength="17.6" lengthAdjust="spacingAndGlyphs" fill="#1e1e1e">Lower</text>
<text transform="translate(123.8 82.9) scale(0.9 1)" x="0" y="0" font-size="8.8" text-anchor="middle" fill="#1e1e1e">T<tspan font-size="52%" dy="1.5">3</tspan><tspan dy="-1.5">x</tspan></text>
<text transform="translate(123.8 140.2) scale(0.9 1)" x="0" y="0" font-size="8.8" text-anchor="middle" fill="#1e1e1e">T<tspan font-size="52%" dy="1.5">2</tspan><tspan dy="-1.5">l</tspan></text>
<text transform="translate(123.8 175.4) scale(0.9 1)" x="0" y="0" font-size="8.8" text-anchor="middle" fill="#1e1e1e">T<tspan font-size="52%" dy="1.5">1</tspan><tspan dy="-1.5">j</tspan></text>
<text transform="translate(123.8 210.4) scale(0.9 1)" x="0" y="0" font-size="8.8" text-anchor="middle" fill="#1e1e1e">T<tspan font-size="52%" dy="1.5">1</tspan><tspan dy="-1.5">f</tspan></text>
<text transform="translate(123.8 236.5) scale(0.9 1)" x="0" y="0" font-size="8.8" text-anchor="middle" fill="#1e1e1e">P<tspan font-size="52%" dy="1.5">3</tspan><tspan dy="-1.5">ch</tspan></text>
<text transform="translate(123.8 251.9) scale(0.9 1)" x="0" y="0" font-size="8.8" text-anchor="middle" fill="#1e1e1e">P<tspan font-size="52%" dy="1.5">3</tspan><tspan dy="-1.5">l</tspan></text>
<text transform="translate(123.8 267.7) scale(0.9 1)" x="0" y="0" font-size="8.8" text-anchor="middle" fill="#1e1e1e">P<tspan font-size="52%" dy="1.5">2</tspan><tspan dy="-1.5">m</tspan></text>
<text transform="translate(123.8 281.9) scale(0.9 1)" x="0" y="0" font-size="8.8" text-anchor="middle" fill="#1e1e1e">P<tspan font-size="52%" dy="1.5">2</tspan><tspan dy="-1.5">q</tspan></text>
<text transform="translate(123.8 295.8) scale(0.9 1)" x="0" y="0" font-size="8.8" text-anchor="middle" fill="#1e1e1e">P<tspan font-size="52%" dy="1.5">2</tspan><tspan dy="-1.5">l</tspan></text>
<text transform="translate(123.8 310.4) scale(0.9 1)" x="0" y="0" font-size="8.8" text-anchor="middle" fill="#1e1e1e">S<tspan font-size="52%" dy="1.5">2</tspan><tspan dy="-1.5">h</tspan></text>
<text transform="translate(123.8 324.2) scale(0.9 1)" x="0" y="0" font-size="8.8" text-anchor="middle" fill="#1e1e1e">S<tspan font-size="52%" dy="1.5">2</tspan><tspan dy="-1.5">x</tspan></text>
<text transform="translate(123.8 338) scale(0.9 1)" x="0" y="0" font-size="8.8" text-anchor="middle" fill="#1e1e1e">S<tspan font-size="52%" dy="1.5">1</tspan><tspan dy="-1.5">l</tspan></text>
<text transform="translate(123.8 352.3) scale(0.9 1)" x="0" y="0" font-size="8.8" text-anchor="middle" fill="#1e1e1e">O<tspan font-size="52%" dy="1.5">3</tspan><tspan dy="-1.5"></tspan></text>
<text transform="translate(123.8 366.5) scale(0.9 1)" x="0" y="0" font-size="8.8" text-anchor="middle" fill="#1e1e1e">O<tspan font-size="52%" dy="1.5">2</tspan><tspan dy="-1.5"></tspan></text>
<text transform="translate(123.8 382.5) scale(0.9 1)" x="0" y="0" font-size="8.8" text-anchor="middle" fill="#1e1e1e">O<tspan font-size="52%" dy="1.5">1</tspan><tspan dy="-1.5"></tspan></text>
<text transform="translate(123.8 396.1) scale(0.9 1)" x="0" y="0" font-size="8.8" text-anchor="middle" fill="#1e1e1e"><tspan fill="#777777" stroke="none" font-size="105%">∈</tspan><tspan font-size="52%" dy="1.5">3</tspan><tspan dy="-1.5">x</tspan></text>
<text transform="translate(123.8 409.7) scale(0.9 1)" x="0" y="0" font-size="8.8" text-anchor="middle" fill="#1e1e1e"><tspan fill="#777777" stroke="none" font-size="105%">∈</tspan><tspan font-size="52%" dy="1.5">2</tspan><tspan dy="-1.5">g</tspan></text>
<text transform="translate(123.8 423) scale(0.9 1)" x="0" y="0" font-size="8.8" text-anchor="middle" fill="#1e1e1e"><tspan fill="#777777" stroke="none" font-size="105%">∈</tspan><tspan font-size="52%" dy="1.5">1</tspan><tspan dy="-1.5">l</tspan></text>
<text transform="translate(123.8 436.2) scale(0.9 1)" x="0" y="0" font-size="8.8" text-anchor="middle" fill="#1e1e1e"><tspan fill="#777777" stroke="none" font-size="105%">∈</tspan><tspan font-size="52%" dy="1.5">1</tspan><tspan dy="-1.5">s</tspan></text>
<text transform="translate(123.8 449.4) scale(0.9 1)" x="0" y="0" font-size="8.8" text-anchor="middle" fill="#1e1e1e"><tspan fill="#777777" stroke="none" font-size="105%">∈</tspan><tspan font-size="52%" dy="1.5">1</tspan><tspan dy="-1.5">q</tspan></text>
<text x="253" y="81.83" font-size="9.79" text-anchor="middle" textLength="41.4" lengthAdjust="spacingAndGlyphs" fill="#1e1e1e">Yanshanian</text>
<text x="251.2" y="171.83" font-size="9.79" text-anchor="middle" textLength="37.4" lengthAdjust="spacingAndGlyphs" fill="#1e1e1e">Indosinian</text>
<text x="250.8" y="268" font-size="10.01" text-anchor="middle" textLength="33.9" lengthAdjust="spacingAndGlyphs" fill="#1e1e1e">Herynian</text>
<text x="250.8" y="380.23" font-size="9.79" text-anchor="middle" textLength="40.6" lengthAdjust="spacingAndGlyphs" fill="#1e1e1e">Caledonian</text>
<text x="213" y="228.56" font-size="8.36" text-anchor="start" textLength="11.3" lengthAdjust="spacingAndGlyphs" fill="#1e1e1e">252</text>
<text x="213" y="302.46" font-size="8.36" text-anchor="start" textLength="11.3" lengthAdjust="spacingAndGlyphs" fill="#1e1e1e">299</text>
<text x="213" y="329.76" font-size="8.36" text-anchor="start" textLength="17.3" lengthAdjust="spacingAndGlyphs" fill="#1e1e1e">438.5</text>
<text x="213" y="344.86" font-size="8.36" text-anchor="start" textLength="17.3" lengthAdjust="spacingAndGlyphs" fill="#1e1e1e">443.8</text>
<text x="213.5" y="391.26" font-size="8.36" text-anchor="start" textLength="11.3" lengthAdjust="spacingAndGlyphs" fill="#1e1e1e">485</text>
<text x="213.2" y="454.36" font-size="8.36" text-anchor="start" textLength="10.6" lengthAdjust="spacingAndGlyphs" fill="#1e1e1e">511</text>
<line x1="272.3" y1="328.7" x2="302.3" y2="11" stroke="#3a3a3a" stroke-width="1.0" stroke-dasharray="4.5 3"/>
<line x1="272.3" y1="341.4" x2="302.3" y2="367.8" stroke="#3a3a3a" stroke-width="1.0" stroke-dasharray="4.2 2.6"/>
<rect x="302.3" y="8.0" width="232.3" height="359.9" fill="none" stroke="#444444" stroke-width="0.8"/>
<line x1="302.3" y1="28.6" x2="534.6" y2="28.6" stroke="#444444" stroke-width="0.8"/>
<line x1="336.8" y1="8" x2="336.8" y2="367.9" stroke="#444444" stroke-width="0.8"/>
<line x1="382.6" y1="8" x2="382.6" y2="367.9" stroke="#444444" stroke-width="0.8"/>
<line x1="409.6" y1="8" x2="409.6" y2="367.9" stroke="#444444" stroke-width="0.8"/>
<line x1="453.6" y1="8" x2="453.6" y2="367.9" stroke="#444444" stroke-width="0.8"/>
<line x1="492.8" y1="8" x2="492.8" y2="367.9" stroke="#444444" stroke-width="0.8"/>
<line x1="350.4" y1="28.6" x2="350.4" y2="307.4" stroke="#444444" stroke-width="0.8"/>
<line x1="365.4" y1="105.2" x2="365.4" y2="307.4" stroke="#444444" stroke-width="0.8"/>
<line x1="350.4" y1="105.2" x2="409.6" y2="105.2" stroke="#444444" stroke-width="0.8"/>
<line x1="365.4" y1="165" x2="409.6" y2="165" stroke="#444444" stroke-width="0.8"/>
<line x1="382.6" y1="252.2" x2="409.6" y2="252.2" stroke="#444444" stroke-width="0.8"/>
<line x1="382.6" y1="276.4" x2="409.6" y2="276.4" stroke="#444444" stroke-width="0.8"/>
<line x1="382.6" y1="294.7" x2="409.6" y2="294.7" stroke="#444444" stroke-width="0.8"/>
<line x1="302.3" y1="307.4" x2="409.6" y2="307.4" stroke="#444444" stroke-width="0.8"/>
<line x1="336.8" y1="349.4" x2="382.6" y2="349.4" stroke="#444444" stroke-width="0.8"/>
<line x1="492.8" y1="191.4" x2="534.6" y2="191.4" stroke="#444444" stroke-width="0.8"/>
<line x1="492.8" y1="349.3" x2="534.6" y2="349.3" stroke="#444444" stroke-width="0.8"/>
<text x="288.7" y="20.33" font-size="11.6" text-anchor="middle" textLength="14.5" lengthAdjust="spacingAndGlyphs" fill="#1e1e1e">(b)</text>
<text x="319.6" y="22.34" font-size="11.33" text-anchor="middle" textLength="30.5" lengthAdjust="spacingAndGlyphs" fill="#1e1e1e">System</text>
<text x="360.3" y="22.38" font-size="11.44" text-anchor="middle" textLength="43.3" lengthAdjust="spacingAndGlyphs" fill="#1e1e1e">Formation</text>
<text x="395" y="23.87" font-size="11.11" text-anchor="middle" textLength="23.4" lengthAdjust="spacingAndGlyphs" fill="#1e1e1e">Layer</text>
<text x="431.8" y="19.09" font-size="10.89" text-anchor="middle" textLength="38" lengthAdjust="spacingAndGlyphs" fill="#1e1e1e">GR(API)</text>
<line x1="414.3" y1="20.2" x2="449.4" y2="20.2" stroke="#e8402a" stroke-width="0.9"/>
<text x="415.5" y="27.49" font-size="8.14" text-anchor="middle" fill="#1e1e1e">0</text>
<text x="447.3" y="27.49" font-size="8.14" text-anchor="middle" textLength="11.3" lengthAdjust="spacingAndGlyphs" fill="#1e1e1e">300</text>
<text x="474.2" y="18.99" font-size="10.89" text-anchor="middle" textLength="34.4" lengthAdjust="spacingAndGlyphs" fill="#1e1e1e">TOC(%)</text>
<line x1="458" y1="20.8" x2="490.9" y2="20.8" stroke="#555" stroke-width="0.9"/>
<text x="459.4" y="27.49" font-size="8.14" text-anchor="middle" fill="#1e1e1e">0</text>
<text x="489.4" y="27.49" font-size="8.14" text-anchor="middle" textLength="7.4" lengthAdjust="spacingAndGlyphs" fill="#1e1e1e">10</text>
<text x="514.2" y="18.28" font-size="7.5" text-anchor="middle" textLength="38.9" lengthAdjust="spacingAndGlyphs" fill="#1e1e1e">Sedimentary</text>
<text x="515.1" y="26.21" font-size="8.2" text-anchor="middle" textLength="20.7" lengthAdjust="spacingAndGlyphs" fill="#1e1e1e">facies</text>
<text transform="translate(319.2 164) rotate(-90)" x="0" y="3.63" font-size="11.0" text-anchor="middle" textLength="33.5" lengthAdjust="spacingAndGlyphs" fill="#1e1e1e">Silurian</text>
<text transform="translate(343.8 164.2) rotate(-90)" x="0" y="3.78" font-size="11.44" text-anchor="middle" textLength="42.8" lengthAdjust="spacingAndGlyphs" fill="#1e1e1e">Longmaxi</text>
<text transform="translate(365.6 67.6) rotate(-90)" x="0" y="3.7" font-size="11.22" text-anchor="middle" textLength="42" lengthAdjust="spacingAndGlyphs" fill="#1e1e1e">Member 2</text>
<text transform="translate(357.6 204.8) rotate(-90)" x="0" y="3.7" font-size="11.22" text-anchor="middle" textLength="42" lengthAdjust="spacingAndGlyphs" fill="#1e1e1e">Member 1</text>
<text transform="translate(373.5 137.1) rotate(-90)" x="0" y="3.67" font-size="11.11" text-anchor="middle" textLength="56.6" lengthAdjust="spacingAndGlyphs" fill="#1e1e1e">Submember 2</text>
<text transform="translate(373.5 241.9) rotate(-90)" x="0" y="3.67" font-size="11.11" text-anchor="middle" textLength="56.4" lengthAdjust="spacingAndGlyphs" fill="#1e1e1e">Submember 1</text>
<text transform="translate(319.2 336.7) rotate(-90)" x="0" y="3.7" font-size="11.22" text-anchor="middle" textLength="45.8" lengthAdjust="spacingAndGlyphs" fill="#1e1e1e">Ordovician</text>
<text x="360.2" y="334.07" font-size="11.11" text-anchor="middle" textLength="32.6" lengthAdjust="spacingAndGlyphs" fill="#1e1e1e">Wufeng</text>
<text x="359.6" y="362.2" font-size="11.22" text-anchor="middle" textLength="23.7" lengthAdjust="spacingAndGlyphs" fill="#1e1e1e">Baota</text>
<text x="396" y="212.76" font-size="8.36" text-anchor="middle" textLength="24" lengthAdjust="spacingAndGlyphs" fill="#1e1e1e">Layer 4</text>
<text x="396" y="267.76" font-size="8.36" text-anchor="middle" textLength="23.6" lengthAdjust="spacingAndGlyphs" fill="#1e1e1e">Layer 3</text>
<text x="396" y="288.06" font-size="8.36" text-anchor="middle" textLength="23.6" lengthAdjust="spacingAndGlyphs" fill="#1e1e1e">Layer 2</text>
<text x="396" y="303.16" font-size="8.36" text-anchor="middle" textLength="23.6" lengthAdjust="spacingAndGlyphs" fill="#1e1e1e">Layer 1</text>
<text x="514" y="104.01" font-size="7.92" text-anchor="middle" textLength="41" lengthAdjust="spacingAndGlyphs" fill="#1e1e1e">Shallow-water</text>
<text x="514" y="112.1" font-size="8.47" text-anchor="middle" textLength="34.8" lengthAdjust="spacingAndGlyphs" fill="#1e1e1e">shelf facies</text>
<text x="514.6" y="275.76" font-size="8.36" text-anchor="middle" textLength="36" lengthAdjust="spacingAndGlyphs" fill="#1e1e1e">Deep-water</text>
<text x="514" y="284" font-size="8.47" text-anchor="middle" textLength="34.8" lengthAdjust="spacingAndGlyphs" fill="#1e1e1e">shelf facies</text>
<text x="514" y="358.01" font-size="6.7" text-anchor="middle" textLength="38.4" lengthAdjust="spacingAndGlyphs" fill="#1e1e1e">Open platform</text>
<text x="515.2" y="365.11" font-size="7.6" text-anchor="middle" textLength="17.7" lengthAdjust="spacingAndGlyphs" fill="#1e1e1e">facies</text>
<path d="M417.8 28.6 C418.05 29.28 419.3 31.17 419.3 32.7 C419.3 34.23 417.8 36.2 417.8 37.8 C417.8 39.4 419.2 40.17 419.3 42.3 C419.4 44.43 418.7 47.93 418.4 50.6 C418.1 53.27 417.6 55.95 417.5 58.3 C417.4 60.65 417.32 62.35 417.8 64.7 C418.28 67.05 419.87 69.63 420.4 72.4 C420.93 75.17 420.88 79.12 421 81.3 C421.12 83.48 420.17 83.83 421.1 85.5 C422.03 87.17 426.48 89.17 426.6 91.3 C426.72 93.43 422.35 95.62 421.8 98.3 C421.25 100.98 423.2 104.35 423.3 107.4 C423.4 110.45 422.77 114.62 422.4 116.6 C422.03 118.58 421.02 118.45 421.1 119.3 C421.18 120.15 422.9 120.63 422.9 121.7 C422.9 122.77 421.18 123.52 421.1 125.7 C421.02 127.88 422.4 132.37 422.4 134.8 C422.4 137.23 421.02 138.77 421.1 140.3 C421.18 141.83 422.83 141.87 422.9 144 C422.97 146.13 421.43 150.37 421.5 153.1 C421.57 155.83 421.48 158.6 423.3 160.4 C425.12 162.2 430.12 162.75 432.4 163.9 C434.68 165.05 437.15 165.97 437 167.3 C436.85 168.63 431.8 170.53 431.5 171.9 C431.2 173.27 435.12 174.13 435.2 175.5 C435.28 176.87 432.1 178.87 432 180.1 C431.9 181.33 434.68 181.68 434.6 182.9 C434.52 184.12 431.62 186.18 431.5 187.4 C431.38 188.62 434.05 188.98 433.9 190.2 C433.75 191.42 430.85 193.33 430.6 194.7 C430.35 196.07 432.77 197.12 432.4 198.4 C432.03 199.68 428.4 200.88 428.4 202.4 C428.4 203.92 431.58 205.73 432.4 207.5 C433.22 209.27 433.6 211.47 433.3 213 C433 214.53 430.75 214.57 430.6 216.7 C430.45 218.83 432.4 222.75 432.4 225.8 C432.4 228.85 430.6 232.57 430.6 235 C430.6 237.43 432.55 238.8 432.4 240.4 C432.25 242 429.7 243.45 429.7 244.6 C429.7 245.75 432.4 246.23 432.4 247.3 C432.4 248.37 429.7 249.32 429.7 251 C429.7 252.68 430.88 255.42 432.4 257.4 C433.92 259.38 437.82 261.38 438.8 262.9 C439.78 264.42 437.83 265.68 438.3 266.5 C438.77 267.32 441.82 267.03 441.6 267.8 C441.38 268.57 437.68 269.33 437 271.1 C436.32 272.87 438.12 275.97 437.5 278.4 C436.88 280.83 434.08 283.42 433.3 285.7 C432.52 287.98 431.88 290 432.8 292.1 C433.72 294.2 436.7 296.6 438.8 298.3 C440.9 300 444.93 301.28 445.4 302.3 C445.87 303.32 443.77 303.45 441.6 304.4 C439.43 305.35 434.45 306.82 432.4 308 C430.35 309.18 429.63 310.63 429.3 311.5 C428.97 312.37 430.63 311.95 430.4 313.2 C430.17 314.45 428.17 317.38 427.9 319 C427.63 320.62 428.8 321.18 428.8 322.9 C428.8 324.62 427.9 327.17 427.9 329.3 C427.9 331.43 428.2 334.18 428.8 335.7 C429.4 337.22 431.2 337.03 431.5 338.4 C431.8 339.77 431.6 342.07 430.6 343.9 C429.6 345.73 426.35 348.48 425.5 349.4" fill="none" stroke="#f2301f" stroke-width="1.1"/>
<path d="M455.9 28.6 C455.98 29.7 456.47 33.03 456.4 35.2 C456.33 37.37 455.32 39.57 455.5 41.6 C455.68 43.63 457.6 45.15 457.5 47.4 C457.4 49.65 455.12 52.65 454.9 55.1 C454.68 57.55 455.73 59.87 456.2 62.1 C456.67 64.33 457.75 66.15 457.7 68.5 C457.65 70.85 456.13 73.45 455.9 76.2 C455.67 78.95 456.18 81.93 456.3 85 C456.42 88.07 456.07 91.47 456.6 94.6 C457.13 97.73 458.97 101.35 459.5 103.8 C460.03 106.25 460.05 107.48 459.8 109.3 C459.55 111.12 458 112.58 458 114.7 C458 116.82 459.85 119.87 459.8 122 C459.75 124.13 457.7 125.37 457.7 127.5 C457.7 129.63 459.8 132.67 459.8 134.8 C459.8 136.93 457.7 138.47 457.7 140.3 C457.7 142.13 459.75 144.12 459.8 145.8 C459.85 147.48 458.05 149.03 458 150.4 C457.95 151.77 459.5 152.93 459.5 154 C459.5 155.07 457.78 155.42 458 156.8 C458.22 158.18 459.73 160.25 460.8 162.3 C461.87 164.35 463.95 166.73 464.4 169.1 C464.85 171.47 463.35 174.05 463.5 176.5 C463.65 178.95 464.85 181.22 465.3 183.8 C465.75 186.38 466.75 189.42 466.2 192 C465.65 194.58 462.82 197.32 462 199.3 C461.18 201.28 460.75 201.92 461.3 203.9 C461.85 205.88 465.08 208.77 465.3 211.2 C465.52 213.63 462.53 215.77 462.6 218.5 C462.67 221.23 465.48 224.85 465.7 227.6 C465.92 230.35 463.65 232.87 463.9 235 C464.15 237.13 467.2 238.2 467.2 240.4 C467.2 242.6 464.07 245.52 463.9 248.2 C463.73 250.88 464.98 254.05 466.2 256.5 C467.42 258.95 470.58 261.23 471.2 262.9 C471.82 264.57 469.72 265.28 469.9 266.5 C470.08 267.72 471.78 268.07 472.3 270.2 C472.82 272.33 473.62 276.27 473 279.3 C472.38 282.33 468.82 285.5 468.6 288.4 C468.38 291.3 470.3 294.17 471.7 296.7 C473.1 299.23 476.6 301.97 477 303.6 C477.4 305.23 475.28 305.57 474.1 306.5 C472.92 307.43 471.05 307.83 469.9 309.2 C468.75 310.57 468.27 313.33 467.2 314.7 C466.13 316.07 463.5 316.48 463.5 317.4 C463.5 318.32 467.13 318.83 467.2 320.2 C467.27 321.57 465.28 323.93 463.9 325.6 C462.52 327.27 459.82 328.67 458.9 330.2 C457.98 331.73 458.08 332.97 458.4 334.8 C458.72 336.63 460.62 338.77 460.8 341.2 C460.98 343.63 459.72 348.03 459.5 349.4" fill="none" stroke="#333333" stroke-width="1.1"/>
<rect x="305.2" y="382.3" width="33.3" height="20" fill="#fffbc9" stroke="#7c7c7c" stroke-width="0.8"/>
<rect x="354.5" y="381.6" width="33.3" height="20.2" fill="#fffbc9" stroke="#7c7c7c" stroke-width="0.8"/>
<line x1="354.5" y1="391.7" x2="387.8" y2="391.7" stroke="#444" stroke-width="0.55"/>
<line x1="360" y1="391.7" x2="367.3" y2="382" stroke="#333" stroke-width="0.6"/>
<line x1="372.7" y1="391.7" x2="380.9" y2="382" stroke="#333" stroke-width="0.6"/>
<line x1="358.2" y1="401.6" x2="366.4" y2="391.9" stroke="#333" stroke-width="0.6"/>
<line x1="372.7" y1="401.6" x2="380.9" y2="391.9" stroke="#333" stroke-width="0.6"/>
<rect x="403.7" y="382.3" width="33.1" height="19.6" fill="#84d2ee" stroke="#7c7c7c" stroke-width="0.8"/>
<line x1="403.7" y1="392.1" x2="436.8" y2="392.1" stroke="#333" stroke-width="0.55"/>
<line x1="419.5" y1="382.3" x2="419.5" y2="392.1" stroke="#333" stroke-width="0.55"/>
<line x1="412.3" y1="392.1" x2="412.3" y2="401.9" stroke="#333" stroke-width="0.55"/>
<line x1="428.6" y1="392.1" x2="428.6" y2="401.9" stroke="#333" stroke-width="0.55"/>
<line x1="408" y1="387.3" x2="415" y2="387.3" stroke="#333" stroke-width="0.6"/>
<line x1="424" y1="387.3" x2="431" y2="387.3" stroke="#333" stroke-width="0.6"/>
<line x1="417.2" y1="397.2" x2="423.7" y2="397.2" stroke="#333" stroke-width="0.6"/>
<rect x="452.2" y="381.5" width="33.1" height="19.8" fill="#fbee00" stroke="#7c7c7c" stroke-width="0.8"/>
<line x1="452.2" y1="391.4" x2="485.3" y2="391.4" stroke="#333" stroke-width="0.55"/>
<line x1="468.6" y1="381.5" x2="468.6" y2="391.4" stroke="#333" stroke-width="0.55"/>
<line x1="460.5" y1="391.4" x2="460.5" y2="401.3" stroke="#333" stroke-width="0.55"/>
<line x1="477.7" y1="391.4" x2="477.7" y2="401.3" stroke="#333" stroke-width="0.55"/>
<circle cx="461.4" cy="386.6" r="2.2" fill="none" stroke="#5a4a00" stroke-width="0.55"/>
<circle cx="461.4" cy="386.6" r="0.5" fill="#5a4a00"/>
<circle cx="476.8" cy="386.6" r="2.2" fill="none" stroke="#5a4a00" stroke-width="0.55"/>
<circle cx="476.8" cy="386.6" r="0.5" fill="#5a4a00"/>
<circle cx="468.8" cy="396.2" r="2.2" fill="none" stroke="#5a4a00" stroke-width="0.55"/>
<circle cx="468.8" cy="396.2" r="0.5" fill="#5a4a00"/>
<rect x="501.3" y="382" width="33.3" height="19.8" fill="#84d2ee" stroke="#7c7c7c" stroke-width="0.8"/>
<line x1="501.3" y1="391.9" x2="534.6" y2="391.9" stroke="#333" stroke-width="0.55"/>
<line x1="505.5" y1="391.9" x2="513.6" y2="382.3" stroke="#333" stroke-width="0.6"/>
<line x1="520" y1="391.9" x2="528.2" y2="382.3" stroke="#333" stroke-width="0.6"/>
<line x1="506.4" y1="401.6" x2="513.6" y2="391.9" stroke="#333" stroke-width="0.6"/>
<line x1="521.8" y1="401.6" x2="530" y2="391.9" stroke="#333" stroke-width="0.6"/>
<line x1="512.7" y1="387.3" x2="520" y2="387.3" stroke="#333" stroke-width="0.6"/>
<line x1="513.6" y1="397.1" x2="520.9" y2="397.1" stroke="#333" stroke-width="0.6"/>
<rect x="305.6" y="424.6" width="33.1" height="20.4" fill="#b2b2b2" stroke="#7c7c7c" stroke-width="0.8"/>
<line x1="305.6" y1="427.51" x2="338.7" y2="427.51" stroke="#4c4c4c" stroke-width="0.9"/>
<line x1="305.6" y1="430.43" x2="338.7" y2="430.43" stroke="#4c4c4c" stroke-width="0.9"/>
<line x1="305.6" y1="433.34" x2="338.7" y2="433.34" stroke="#4c4c4c" stroke-width="0.9"/>
<line x1="305.6" y1="436.26" x2="338.7" y2="436.26" stroke="#4c4c4c" stroke-width="0.9"/>
<line x1="305.6" y1="439.17" x2="338.7" y2="439.17" stroke="#4c4c4c" stroke-width="0.9"/>
<line x1="305.6" y1="442.09" x2="338.7" y2="442.09" stroke="#4c4c4c" stroke-width="0.9"/>
<rect x="354.6" y="424.2" width="33.5" height="19.8" fill="#b2b2b2" stroke="#7c7c7c" stroke-width="0.8"/>
<line x1="354.6" y1="434.1" x2="388.1" y2="434.1" stroke="#555" stroke-width="0.55"/>
<line x1="357.3" y1="429.4" x2="361.8" y2="429.4" stroke="#444" stroke-width="0.7"/>
<line x1="365.5" y1="429.4" x2="370.9" y2="429.4" stroke="#444" stroke-width="0.7"/>
<line x1="373.6" y1="429.4" x2="379.1" y2="429.4" stroke="#444" stroke-width="0.7"/>
<line x1="382.4" y1="429.4" x2="383.2" y2="429.4" stroke="#444" stroke-width="0.7"/>
<line x1="362.7" y1="439.2" x2="368.2" y2="439.2" stroke="#444" stroke-width="0.7"/>
<line x1="370.9" y1="439.2" x2="376.4" y2="439.2" stroke="#444" stroke-width="0.7"/>
<line x1="379.6" y1="439.2" x2="380.4" y2="439.2" stroke="#444" stroke-width="0.7"/>
<rect x="404" y="424.6" width="32.8" height="20.4" fill="#d3e77c" stroke="#7c7c7c" stroke-width="0.8"/>
<line x1="404" y1="431.4" x2="436.8" y2="431.4" stroke="#444" stroke-width="0.6"/>
<line x1="404" y1="438.3" x2="436.8" y2="438.3" stroke="#444" stroke-width="0.6"/>
<rect x="407.3" y="427.3" width="1.6" height="1.6" fill="#111"/>
<rect x="418.7" y="427.3" width="1.6" height="1.6" fill="#111"/>
<rect x="430.2" y="427.3" width="1.6" height="1.6" fill="#111"/>
<rect x="412.4" y="433.9" width="1.6" height="1.6" fill="#111"/>
<rect x="424.2" y="433.9" width="1.6" height="1.6" fill="#111"/>
<rect x="407.3" y="441" width="1.6" height="1.6" fill="#111"/>
<rect x="418.7" y="441" width="1.6" height="1.6" fill="#111"/>
<rect x="430.2" y="441" width="1.6" height="1.6" fill="#111"/>
<rect x="452.6" y="424.2" width="33.1" height="20" fill="#13993a"/>
<line x1="452.6" y1="424.2" x2="452.6" y2="444.2" stroke="#0a6a22" stroke-width="0.9"/>
<line x1="455.61" y1="424.2" x2="455.61" y2="444.2" stroke="#0a6a22" stroke-width="0.9"/>
<line x1="458.62" y1="424.2" x2="458.62" y2="444.2" stroke="#0a6a22" stroke-width="0.9"/>
<line x1="461.63" y1="424.2" x2="461.63" y2="444.2" stroke="#0a6a22" stroke-width="0.9"/>
<line x1="464.64" y1="424.2" x2="464.64" y2="444.2" stroke="#0a6a22" stroke-width="0.9"/>
<line x1="467.65" y1="424.2" x2="467.65" y2="444.2" stroke="#0a6a22" stroke-width="0.9"/>
<line x1="470.65" y1="424.2" x2="470.65" y2="444.2" stroke="#0a6a22" stroke-width="0.9"/>
<line x1="473.66" y1="424.2" x2="473.66" y2="444.2" stroke="#0a6a22" stroke-width="0.9"/>
<line x1="476.67" y1="424.2" x2="476.67" y2="444.2" stroke="#0a6a22" stroke-width="0.9"/>
<line x1="479.68" y1="424.2" x2="479.68" y2="444.2" stroke="#0a6a22" stroke-width="0.9"/>
<line x1="482.69" y1="424.2" x2="482.69" y2="444.2" stroke="#0a6a22" stroke-width="0.9"/>
<line x1="485.7" y1="424.2" x2="485.7" y2="444.2" stroke="#0a6a22" stroke-width="0.9"/>
<path d="M500.6 425.25 L501.39 424.66 L502.17 424.19 L502.96 423.96 L503.75 424.02 L504.53 424.35 L505.32 424.88 L506.11 425.01 L506.89 424.45 L507.68 424.07 L508.47 423.95 L509.25 424.12 L510.04 424.54 L510.83 425.11 L511.61 424.78 L512.4 424.28 L513.19 423.99 L513.97 423.98 L514.76 424.26 L515.55 424.75 L516.33 425.15 L517.12 424.56 L517.91 424.13 L518.69 423.95 L519.48 424.06 L520.27 424.43 L521.05 424.98 L521.84 424.91 L522.63 424.37 L523.41 424.03 L524.2 423.96 L524.99 424.17 L525.77 424.63 L526.56 425.22 L527.35 424.68 L528.13 424.21 L528.92 423.97 L529.71 424.01 L530.49 424.33 L531.28 424.85 L532.07 425.04 L532.85 424.48 L533.64 424.08 L534.43 423.95 L535.21 424.1 L536 424.51 L536 444.4 L500.6 444.4 Z" fill="#a29a70"/>
<rect x="501.1" y="425.28" width="2.85" height="1.46" fill="#fffbc8"/>
<rect x="504.65" y="425.28" width="4.5" height="1.46" fill="#fffbc8"/>
<rect x="509.85" y="425.28" width="4.5" height="1.46" fill="#fffbc8"/>
<rect x="515.05" y="425.28" width="4.5" height="1.46" fill="#fffbc8"/>
<rect x="520.25" y="425.28" width="4.5" height="1.46" fill="#fffbc8"/>
<rect x="525.45" y="425.28" width="4.5" height="1.46" fill="#fffbc8"/>
<rect x="530.65" y="425.28" width="4.5" height="1.46" fill="#fffbc8"/>
<rect x="501.1" y="427.3" width="0.25" height="1.46" fill="#fffbc8"/>
<rect x="502.05" y="427.3" width="4.5" height="1.46" fill="#fffbc8"/>
<rect x="507.25" y="427.3" width="4.5" height="1.46" fill="#fffbc8"/>
<rect x="512.45" y="427.3" width="4.5" height="1.46" fill="#fffbc8"/>
<rect x="517.65" y="427.3" width="4.5" height="1.46" fill="#fffbc8"/>
<rect x="522.85" y="427.3" width="4.5" height="1.46" fill="#fffbc8"/>
<rect x="528.05" y="427.3" width="4.5" height="1.46" fill="#fffbc8"/>
<rect x="533.25" y="427.3" width="2.25" height="1.46" fill="#fffbc8"/>
<rect x="501.1" y="429.32" width="2.85" height="1.46" fill="#fffbc8"/>
<rect x="504.65" y="429.32" width="4.5" height="1.46" fill="#fffbc8"/>
<rect x="509.85" y="429.32" width="4.5" height="1.46" fill="#fffbc8"/>
<rect x="515.05" y="429.32" width="4.5" height="1.46" fill="#fffbc8"/>
<rect x="520.25" y="429.32" width="4.5" height="1.46" fill="#fffbc8"/>
<rect x="525.45" y="429.32" width="4.5" height="1.46" fill="#fffbc8"/>
<rect x="530.65" y="429.32" width="4.5" height="1.46" fill="#fffbc8"/>
<rect x="501.1" y="431.35" width="0.25" height="1.46" fill="#fffbc8"/>
<rect x="502.05" y="431.35" width="4.5" height="1.46" fill="#fffbc8"/>
<rect x="507.25" y="431.35" width="4.5" height="1.46" fill="#fffbc8"/>
<rect x="512.45" y="431.35" width="4.5" height="1.46" fill="#fffbc8"/>
<rect x="517.65" y="431.35" width="4.5" height="1.46" fill="#fffbc8"/>
<rect x="522.85" y="431.35" width="4.5" height="1.46" fill="#fffbc8"/>
<rect x="528.05" y="431.35" width="4.5" height="1.46" fill="#fffbc8"/>
<rect x="533.25" y="431.35" width="2.25" height="1.46" fill="#fffbc8"/>
<rect x="501.1" y="433.37" width="2.85" height="1.46" fill="#fffbc8"/>
<rect x="504.65" y="433.37" width="4.5" height="1.46" fill="#fffbc8"/>
<rect x="509.85" y="433.37" width="4.5" height="1.46" fill="#fffbc8"/>
<rect x="515.05" y="433.37" width="4.5" height="1.46" fill="#fffbc8"/>
<rect x="520.25" y="433.37" width="4.5" height="1.46" fill="#fffbc8"/>
<rect x="525.45" y="433.37" width="4.5" height="1.46" fill="#fffbc8"/>
<rect x="530.65" y="433.37" width="4.5" height="1.46" fill="#fffbc8"/>
<rect x="501.1" y="435.39" width="0.25" height="1.46" fill="#fffbc8"/>
<rect x="502.05" y="435.39" width="4.5" height="1.46" fill="#fffbc8"/>
<rect x="507.25" y="435.39" width="4.5" height="1.46" fill="#fffbc8"/>
<rect x="512.45" y="435.39" width="4.5" height="1.46" fill="#fffbc8"/>
<rect x="517.65" y="435.39" width="4.5" height="1.46" fill="#fffbc8"/>
<rect x="522.85" y="435.39" width="4.5" height="1.46" fill="#fffbc8"/>
<rect x="528.05" y="435.39" width="4.5" height="1.46" fill="#fffbc8"/>
<rect x="533.25" y="435.39" width="2.25" height="1.46" fill="#fffbc8"/>
<rect x="501.1" y="437.41" width="2.85" height="1.46" fill="#fffbc8"/>
<rect x="504.65" y="437.41" width="4.5" height="1.46" fill="#fffbc8"/>
<rect x="509.85" y="437.41" width="4.5" height="1.46" fill="#fffbc8"/>
<rect x="515.05" y="437.41" width="4.5" height="1.46" fill="#fffbc8"/>
<rect x="520.25" y="437.41" width="4.5" height="1.46" fill="#fffbc8"/>
<rect x="525.45" y="437.41" width="4.5" height="1.46" fill="#fffbc8"/>
<rect x="530.65" y="437.41" width="4.5" height="1.46" fill="#fffbc8"/>
<rect x="501.1" y="439.44" width="0.25" height="1.46" fill="#fffbc8"/>
<rect x="502.05" y="439.44" width="4.5" height="1.46" fill="#fffbc8"/>
<rect x="507.25" y="439.44" width="4.5" height="1.46" fill="#fffbc8"/>
<rect x="512.45" y="439.44" width="4.5" height="1.46" fill="#fffbc8"/>
<rect x="517.65" y="439.44" width="4.5" height="1.46" fill="#fffbc8"/>
<rect x="522.85" y="439.44" width="4.5" height="1.46" fill="#fffbc8"/>
<rect x="528.05" y="439.44" width="4.5" height="1.46" fill="#fffbc8"/>
<rect x="533.25" y="439.44" width="2.25" height="1.46" fill="#fffbc8"/>
<rect x="501.1" y="441.46" width="2.85" height="1.46" fill="#fffbc8"/>
<rect x="504.65" y="441.46" width="4.5" height="1.46" fill="#fffbc8"/>
<rect x="509.85" y="441.46" width="4.5" height="1.46" fill="#fffbc8"/>
<rect x="515.05" y="441.46" width="4.5" height="1.46" fill="#fffbc8"/>
<rect x="520.25" y="441.46" width="4.5" height="1.46" fill="#fffbc8"/>
<rect x="525.45" y="441.46" width="4.5" height="1.46" fill="#fffbc8"/>
<rect x="530.65" y="441.46" width="4.5" height="1.46" fill="#fffbc8"/>
<rect x="501.1" y="443.5" width="34.4" height="0.4" fill="#fcf7c4"/>
<rect x="305.2" y="457.2" width="33.7" height="20.9" fill="#7c8844"/>
<rect x="305.65" y="457.7" width="2.7" height="1.61" fill="#e9f650"/>
<rect x="309.25" y="457.7" width="3.7" height="1.61" fill="#e9f650"/>
<rect x="313.85" y="457.7" width="3.7" height="1.61" fill="#e9f650"/>
<rect x="318.45" y="457.7" width="3.7" height="1.61" fill="#e9f650"/>
<rect x="323.05" y="457.7" width="3.7" height="1.61" fill="#e9f650"/>
<rect x="327.65" y="457.7" width="3.7" height="1.61" fill="#e9f650"/>
<rect x="332.25" y="457.7" width="3.7" height="1.61" fill="#e9f650"/>
<rect x="336.85" y="457.7" width="1.6" height="1.61" fill="#e9f650"/>
<rect x="305.65" y="460.31" width="0.4" height="1.61" fill="#e9f650"/>
<rect x="306.95" y="460.31" width="3.7" height="1.61" fill="#e9f650"/>
<rect x="311.55" y="460.31" width="3.7" height="1.61" fill="#e9f650"/>
<rect x="316.15" y="460.31" width="3.7" height="1.61" fill="#e9f650"/>
<rect x="320.75" y="460.31" width="3.7" height="1.61" fill="#e9f650"/>
<rect x="325.35" y="460.31" width="3.7" height="1.61" fill="#e9f650"/>
<rect x="329.95" y="460.31" width="3.7" height="1.61" fill="#e9f650"/>
<rect x="334.55" y="460.31" width="3.7" height="1.61" fill="#e9f650"/>
<rect x="305.65" y="462.93" width="2.7" height="1.61" fill="#e9f650"/>
<rect x="309.25" y="462.93" width="3.7" height="1.61" fill="#e9f650"/>
<rect x="313.85" y="462.93" width="3.7" height="1.61" fill="#e9f650"/>
<rect x="318.45" y="462.93" width="3.7" height="1.61" fill="#e9f650"/>
<rect x="323.05" y="462.93" width="3.7" height="1.61" fill="#e9f650"/>
<rect x="327.65" y="462.93" width="3.7" height="1.61" fill="#e9f650"/>
<rect x="332.25" y="462.93" width="3.7" height="1.61" fill="#e9f650"/>
<rect x="336.85" y="462.93" width="1.6" height="1.61" fill="#e9f650"/>
<rect x="305.65" y="465.54" width="0.4" height="1.61" fill="#e9f650"/>
<rect x="306.95" y="465.54" width="3.7" height="1.61" fill="#e9f650"/>
<rect x="311.55" y="465.54" width="3.7" height="1.61" fill="#e9f650"/>
<rect x="316.15" y="465.54" width="3.7" height="1.61" fill="#e9f650"/>
<rect x="320.75" y="465.54" width="3.7" height="1.61" fill="#e9f650"/>
<rect x="325.35" y="465.54" width="3.7" height="1.61" fill="#e9f650"/>
<rect x="329.95" y="465.54" width="3.7" height="1.61" fill="#e9f650"/>
<rect x="334.55" y="465.54" width="3.7" height="1.61" fill="#e9f650"/>
<rect x="305.65" y="468.15" width="2.7" height="1.61" fill="#e9f650"/>
<rect x="309.25" y="468.15" width="3.7" height="1.61" fill="#e9f650"/>
<rect x="313.85" y="468.15" width="3.7" height="1.61" fill="#e9f650"/>
<rect x="318.45" y="468.15" width="3.7" height="1.61" fill="#e9f650"/>
<rect x="323.05" y="468.15" width="3.7" height="1.61" fill="#e9f650"/>
<rect x="327.65" y="468.15" width="3.7" height="1.61" fill="#e9f650"/>
<rect x="332.25" y="468.15" width="3.7" height="1.61" fill="#e9f650"/>
<rect x="336.85" y="468.15" width="1.6" height="1.61" fill="#e9f650"/>
<rect x="305.65" y="470.76" width="0.4" height="1.61" fill="#e9f650"/>
<rect x="306.95" y="470.76" width="3.7" height="1.61" fill="#e9f650"/>
<rect x="311.55" y="470.76" width="3.7" height="1.61" fill="#e9f650"/>
<rect x="316.15" y="470.76" width="3.7" height="1.61" fill="#e9f650"/>
<rect x="320.75" y="470.76" width="3.7" height="1.61" fill="#e9f650"/>
<rect x="325.35" y="470.76" width="3.7" height="1.61" fill="#e9f650"/>
<rect x="329.95" y="470.76" width="3.7" height="1.61" fill="#e9f650"/>
<rect x="334.55" y="470.76" width="3.7" height="1.61" fill="#e9f650"/>
<rect x="305.65" y="473.38" width="2.7" height="1.61" fill="#e9f650"/>
<rect x="309.25" y="473.38" width="3.7" height="1.61" fill="#e9f650"/>
<rect x="313.85" y="473.38" width="3.7" height="1.61" fill="#e9f650"/>
<rect x="318.45" y="473.38" width="3.7" height="1.61" fill="#e9f650"/>
<rect x="323.05" y="473.38" width="3.7" height="1.61" fill="#e9f650"/>
<rect x="327.65" y="473.38" width="3.7" height="1.61" fill="#e9f650"/>
<rect x="332.25" y="473.38" width="3.7" height="1.61" fill="#e9f650"/>
<rect x="336.85" y="473.38" width="1.6" height="1.61" fill="#e9f650"/>
<rect x="305.65" y="475.99" width="0.4" height="1.61" fill="#e9f650"/>
<rect x="306.95" y="475.99" width="3.7" height="1.61" fill="#e9f650"/>
<rect x="311.55" y="475.99" width="3.7" height="1.61" fill="#e9f650"/>
<rect x="316.15" y="475.99" width="3.7" height="1.61" fill="#e9f650"/>
<rect x="320.75" y="475.99" width="3.7" height="1.61" fill="#e9f650"/>
<rect x="325.35" y="475.99" width="3.7" height="1.61" fill="#e9f650"/>
<rect x="329.95" y="475.99" width="3.7" height="1.61" fill="#e9f650"/>
<rect x="334.55" y="475.99" width="3.7" height="1.61" fill="#e9f650"/>
<text x="323" y="417.07" font-size="9.9" text-anchor="middle" textLength="38.2" lengthAdjust="spacingAndGlyphs" fill="#1e1e1e">Limestone</text>
<text x="370.3" y="416.07" font-size="9.9" text-anchor="middle" textLength="33.6" lengthAdjust="spacingAndGlyphs" fill="#1e1e1e">Dolomite</text>
<text x="420.1" y="411.47" font-size="9.9" text-anchor="middle" textLength="45.6" lengthAdjust="spacingAndGlyphs" fill="#1e1e1e">Argillaceous</text>
<text x="417.6" y="421.67" font-size="9.9" text-anchor="middle" textLength="34" lengthAdjust="spacingAndGlyphs" fill="#1e1e1e">limestone</text>
<text x="468.3" y="411.47" font-size="9.9" text-anchor="middle" textLength="25.4" lengthAdjust="spacingAndGlyphs" fill="#1e1e1e">Oolitic</text>
<text x="469" y="421.67" font-size="9.9" text-anchor="middle" textLength="35" lengthAdjust="spacingAndGlyphs" fill="#1e1e1e">limestone</text>
<text x="520" y="411.47" font-size="9.9" text-anchor="middle" textLength="46" lengthAdjust="spacingAndGlyphs" fill="#1e1e1e">Argillaceous</text>
<text x="518.2" y="421.47" font-size="9.9" text-anchor="middle" textLength="32.5" lengthAdjust="spacingAndGlyphs" fill="#1e1e1e">dolomite</text>
<text x="320.7" y="455.27" font-size="9.9" text-anchor="middle" textLength="19.8" lengthAdjust="spacingAndGlyphs" fill="#1e1e1e">Shale</text>
<text x="371.8" y="454.67" font-size="9.9" text-anchor="middle" textLength="35.6" lengthAdjust="spacingAndGlyphs" fill="#1e1e1e">Mudstone</text>
<text x="419.2" y="455.87" font-size="9.9" text-anchor="middle" textLength="37.2" lengthAdjust="spacingAndGlyphs" fill="#1e1e1e">Sandstone</text>
<text x="468.6" y="455.87" font-size="9.9" text-anchor="middle" textLength="30.5" lengthAdjust="spacingAndGlyphs" fill="#1e1e1e">Gypsum</text>
<text x="516.2" y="455.87" font-size="9.9" text-anchor="middle" textLength="54.6" lengthAdjust="spacingAndGlyphs" fill="#1e1e1e">Silty sandstone</text>
<text x="328.4" y="489.07" font-size="9.9" text-anchor="middle" textLength="55.5" lengthAdjust="spacingAndGlyphs" fill="#1e1e1e">Grey mudstone</text>
</svg>
</body></html>
